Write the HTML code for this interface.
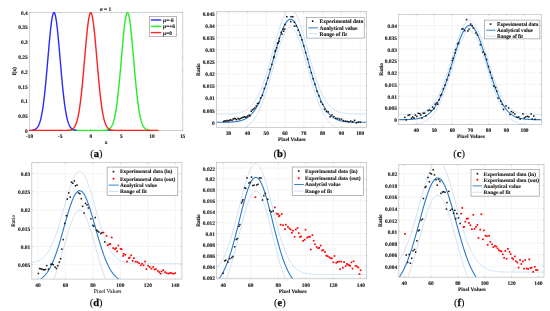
<!DOCTYPE html>
<html><head><meta charset="utf-8"><title>Figure</title>
<style>
html,body{margin:0;padding:0;background:#fff;}
body{width:550px;height:311px;overflow:hidden;}
svg{display:block;text-rendering:geometricPrecision;}
.t{font-family:"Liberation Serif", "DejaVu Serif", serif;font-weight:bold;font-size:5.4px;fill:#1a1a1a;stroke:#1a1a1a;stroke-width:0.14px;}
.r{font-family:"Liberation Serif", "DejaVu Serif", serif;font-size:5.6px;fill:#1a1a1a;stroke:#1a1a1a;stroke-width:0.08px;}
.cap{font-family:"Liberation Serif", "DejaVu Serif", serif;font-size:10.5px;fill:#111;stroke:#111;stroke-width:0.12px;}
.cap tspan{stroke-width:0.3px;}
</style></head>
<body>
<svg width="550" height="311" viewBox="0 0 550 311">
<rect width="550" height="311" fill="#fff"/>
<rect x="29.30" y="12.30" width="153.50" height="118.10" fill="none" stroke="#bcbcbc" stroke-width="0.7"/>
<line x1="29.50" y1="130.40" x2="29.50" y2="129.10" stroke="#bcbcbc" stroke-width="0.6"/>
<line x1="29.50" y1="12.30" x2="29.50" y2="13.60" stroke="#bcbcbc" stroke-width="0.6"/>
<line x1="60.12" y1="130.40" x2="60.12" y2="129.10" stroke="#bcbcbc" stroke-width="0.6"/>
<line x1="60.12" y1="12.30" x2="60.12" y2="13.60" stroke="#bcbcbc" stroke-width="0.6"/>
<line x1="90.74" y1="130.40" x2="90.74" y2="129.10" stroke="#bcbcbc" stroke-width="0.6"/>
<line x1="90.74" y1="12.30" x2="90.74" y2="13.60" stroke="#bcbcbc" stroke-width="0.6"/>
<line x1="121.36" y1="130.40" x2="121.36" y2="129.10" stroke="#bcbcbc" stroke-width="0.6"/>
<line x1="121.36" y1="12.30" x2="121.36" y2="13.60" stroke="#bcbcbc" stroke-width="0.6"/>
<line x1="151.98" y1="130.40" x2="151.98" y2="129.10" stroke="#bcbcbc" stroke-width="0.6"/>
<line x1="151.98" y1="12.30" x2="151.98" y2="13.60" stroke="#bcbcbc" stroke-width="0.6"/>
<line x1="182.60" y1="130.40" x2="182.60" y2="129.10" stroke="#bcbcbc" stroke-width="0.6"/>
<line x1="182.60" y1="12.30" x2="182.60" y2="13.60" stroke="#bcbcbc" stroke-width="0.6"/>
<line x1="29.30" y1="130.40" x2="30.60" y2="130.40" stroke="#bcbcbc" stroke-width="0.6"/>
<line x1="182.80" y1="130.40" x2="181.50" y2="130.40" stroke="#bcbcbc" stroke-width="0.6"/>
<line x1="29.30" y1="115.64" x2="30.60" y2="115.64" stroke="#bcbcbc" stroke-width="0.6"/>
<line x1="182.80" y1="115.64" x2="181.50" y2="115.64" stroke="#bcbcbc" stroke-width="0.6"/>
<line x1="29.30" y1="100.88" x2="30.60" y2="100.88" stroke="#bcbcbc" stroke-width="0.6"/>
<line x1="182.80" y1="100.88" x2="181.50" y2="100.88" stroke="#bcbcbc" stroke-width="0.6"/>
<line x1="29.30" y1="86.11" x2="30.60" y2="86.11" stroke="#bcbcbc" stroke-width="0.6"/>
<line x1="182.80" y1="86.11" x2="181.50" y2="86.11" stroke="#bcbcbc" stroke-width="0.6"/>
<line x1="29.30" y1="71.35" x2="30.60" y2="71.35" stroke="#bcbcbc" stroke-width="0.6"/>
<line x1="182.80" y1="71.35" x2="181.50" y2="71.35" stroke="#bcbcbc" stroke-width="0.6"/>
<line x1="29.30" y1="56.59" x2="30.60" y2="56.59" stroke="#bcbcbc" stroke-width="0.6"/>
<line x1="182.80" y1="56.59" x2="181.50" y2="56.59" stroke="#bcbcbc" stroke-width="0.6"/>
<line x1="29.30" y1="41.83" x2="30.60" y2="41.83" stroke="#bcbcbc" stroke-width="0.6"/>
<line x1="182.80" y1="41.83" x2="181.50" y2="41.83" stroke="#bcbcbc" stroke-width="0.6"/>
<line x1="29.30" y1="27.06" x2="30.60" y2="27.06" stroke="#bcbcbc" stroke-width="0.6"/>
<line x1="182.80" y1="27.06" x2="181.50" y2="27.06" stroke="#bcbcbc" stroke-width="0.6"/>
<line x1="29.30" y1="12.30" x2="30.60" y2="12.30" stroke="#bcbcbc" stroke-width="0.6"/>
<line x1="182.80" y1="12.30" x2="181.50" y2="12.30" stroke="#bcbcbc" stroke-width="0.6"/>
<text x="29.50" y="137.60" text-anchor="middle" class="t">-10</text>
<text x="60.12" y="137.60" text-anchor="middle" class="t">-5</text>
<text x="90.74" y="137.60" text-anchor="middle" class="t">0</text>
<text x="121.36" y="137.60" text-anchor="middle" class="t">5</text>
<text x="151.98" y="137.60" text-anchor="middle" class="t">10</text>
<text x="182.60" y="137.60" text-anchor="middle" class="t">15</text>
<text x="27.70" y="132.80" text-anchor="end" class="t">0</text>
<text x="27.70" y="118.04" text-anchor="end" class="t">0.05</text>
<text x="27.70" y="103.28" text-anchor="end" class="t">0.1</text>
<text x="27.70" y="88.51" text-anchor="end" class="t">0.15</text>
<text x="27.70" y="73.75" text-anchor="end" class="t">0.2</text>
<text x="27.70" y="58.99" text-anchor="end" class="t">0.25</text>
<text x="27.70" y="44.23" text-anchor="end" class="t">0.3</text>
<text x="27.70" y="29.46" text-anchor="end" class="t">0.35</text>
<text x="27.70" y="14.70" text-anchor="end" class="t">0.4</text>
<polyline points="70.53,130.40 74.39,130.40 78.25,130.40 82.11,130.40 85.96,130.40 89.82,130.40 93.68,130.40 97.54,130.40 101.40,130.40 105.25,130.40 109.11,130.40" fill="none" stroke="#22f022" stroke-width="1.4" stroke-linejoin="round" stroke-linecap="round"/>
<polyline points="108.50,130.40 109.11,130.40 109.72,130.40 110.34,130.40 110.95,130.40" fill="none" stroke="#2a2aff" stroke-width="1.4" stroke-linejoin="round" stroke-linecap="round"/>
<polyline points="31.95,130.22 32.10,130.20 32.24,130.19 32.39,130.17 32.54,130.15 32.68,130.12 32.83,130.10 32.98,130.07 33.13,130.05 33.27,130.02 33.42,129.98 33.57,129.95 33.71,129.91 33.86,129.87 34.01,129.83 34.15,129.78 34.30,129.73 34.45,129.68 34.60,129.62 34.74,129.56 34.89,129.49 35.04,129.42 35.18,129.35 35.33,129.27 35.48,129.18 35.62,129.09 35.77,128.99 35.92,128.89 36.06,128.78 36.21,128.66 36.36,128.54 36.51,128.41 36.65,128.26 36.80,128.11 36.95,127.96 37.09,127.79 37.24,127.61 37.39,127.42 37.53,127.22 37.68,127.01 37.83,126.79 37.98,126.55 38.12,126.31 38.27,126.04 38.42,125.77 38.56,125.48 38.71,125.17 38.86,124.85 39.00,124.51 39.15,124.16 39.30,123.79 39.45,123.40 39.59,122.99 39.74,122.56 39.89,122.11 40.03,121.64 40.18,121.15 40.33,120.64 40.47,120.11 40.62,119.55 40.77,118.97 40.92,118.37 41.06,117.74 41.21,117.08 41.36,116.40 41.50,115.70 41.65,114.96 41.80,114.20 41.94,113.41 42.09,112.60 42.24,111.75 42.38,110.88 42.53,109.98 42.68,109.04 42.83,108.08 42.97,107.09 43.12,106.07 43.27,105.02 43.41,103.93 43.56,102.82 43.71,101.68 43.85,100.50 44.00,99.30 44.15,98.07 44.30,96.81 44.44,95.51 44.59,94.19 44.74,92.84 44.88,91.47 45.03,90.06 45.18,88.63 45.32,87.18 45.47,85.70 45.62,84.19 45.77,82.66 45.91,81.11 46.06,79.54 46.21,77.95 46.35,76.34 46.50,74.71 46.65,73.07 46.79,71.41 46.94,69.74 47.09,68.05 47.24,66.36 47.38,64.66 47.53,62.95 47.68,61.24 47.82,59.53 47.97,57.82 48.12,56.10 48.26,54.39 48.41,52.69 48.56,50.99 48.70,49.30 48.85,47.63 49.00,45.97 49.15,44.32 49.29,42.70 49.44,41.09 49.59,39.51 49.73,37.95 49.88,36.42 50.03,34.92 50.17,33.45 50.32,32.02 50.47,30.62 50.62,29.26 50.76,27.94 50.91,26.66 51.06,25.43 51.20,24.24 51.35,23.11 51.50,22.02 51.64,20.98 51.79,20.00 51.94,19.08 52.09,18.21 52.23,17.40 52.38,16.65 52.53,15.96 52.67,15.33 52.82,14.76 52.97,14.26 53.11,13.83 53.26,13.46 53.41,13.15 53.56,12.92 53.70,12.75 53.85,12.65 54.00,12.61 54.14,12.65 54.29,12.75 54.44,12.92 54.58,13.15 54.73,13.46 54.88,13.83 55.02,14.26 55.17,14.76 55.32,15.33 55.47,15.96 55.61,16.65 55.76,17.40 55.91,18.21 56.05,19.08 56.20,20.00 56.35,20.98 56.49,22.02 56.64,23.11 56.79,24.24 56.94,25.43 57.08,26.66 57.23,27.94 57.38,29.26 57.52,30.62 57.67,32.02 57.82,33.45 57.96,34.92 58.11,36.42 58.26,37.95 58.41,39.51 58.55,41.09 58.70,42.70 58.85,44.32 58.99,45.97 59.14,47.63 59.29,49.30 59.43,50.99 59.58,52.69 59.73,54.39 59.88,56.10 60.02,57.82 60.17,59.53 60.32,61.24 60.46,62.95 60.61,64.66 60.76,66.36 60.90,68.05 61.05,69.74 61.20,71.41 61.34,73.07 61.49,74.71 61.64,76.34 61.79,77.95 61.93,79.54 62.08,81.11 62.23,82.66 62.37,84.19 62.52,85.70 62.67,87.18 62.81,88.63 62.96,90.06 63.11,91.47 63.26,92.84 63.40,94.19 63.55,95.51 63.70,96.81 63.84,98.07 63.99,99.30 64.14,100.50 64.28,101.68 64.43,102.82 64.58,103.93 64.73,105.02 64.87,106.07 65.02,107.09 65.17,108.08 65.31,109.04 65.46,109.98 65.61,110.88 65.75,111.75 65.90,112.60 66.05,113.41 66.20,114.20 66.34,114.96 66.49,115.70 66.64,116.40 66.78,117.08 66.93,117.74 67.08,118.37 67.22,118.97 67.37,119.55 67.52,120.11 67.66,120.64 67.81,121.15 67.96,121.64 68.11,122.11 68.25,122.56 68.40,122.99 68.55,123.40 68.69,123.79 68.84,124.16 68.99,124.51 69.13,124.85 69.28,125.17 69.43,125.48 69.58,125.77 69.72,126.04 69.87,126.31 70.02,126.55 70.16,126.79 70.31,127.01 70.46,127.22 70.60,127.42 70.75,127.61 70.90,127.79 71.05,127.96 71.19,128.11 71.34,128.26 71.49,128.41 71.63,128.54 71.78,128.66 71.93,128.78 72.07,128.89 72.22,128.99 72.37,129.09 72.51,129.18 72.66,129.27 72.81,129.35 72.96,129.42 73.10,129.49 73.25,129.56 73.40,129.62 73.54,129.68 73.69,129.73 73.84,129.78 73.98,129.83 74.13,129.87 74.28,129.91 74.43,129.95 74.57,129.98 74.72,130.02 74.87,130.05 75.01,130.07 75.16,130.10 75.31,130.12 75.45,130.15 75.60,130.17 75.75,130.19 75.90,130.20 76.04,130.22" fill="none" stroke="#2a2aff" stroke-width="1.4" stroke-linejoin="round" stroke-linecap="round"/>
<polyline points="105.44,130.22 105.58,130.20 105.73,130.19 105.88,130.17 106.03,130.15 106.17,130.12 106.32,130.10 106.47,130.07 106.61,130.05 106.76,130.02 106.91,129.98 107.05,129.95 107.20,129.91 107.35,129.87 107.50,129.83 107.64,129.78 107.79,129.73 107.94,129.68 108.08,129.62 108.23,129.56 108.38,129.49 108.52,129.42 108.67,129.35 108.82,129.27 108.97,129.18 109.11,129.09 109.26,128.99 109.41,128.89 109.55,128.78 109.70,128.66 109.85,128.54 109.99,128.41 110.14,128.26 110.29,128.11 110.43,127.96 110.58,127.79 110.73,127.61 110.88,127.42 111.02,127.22 111.17,127.01 111.32,126.79 111.46,126.55 111.61,126.31 111.76,126.04 111.90,125.77 112.05,125.48 112.20,125.17 112.35,124.85 112.49,124.51 112.64,124.16 112.79,123.79 112.93,123.40 113.08,122.99 113.23,122.56 113.37,122.11 113.52,121.64 113.67,121.15 113.82,120.64 113.96,120.11 114.11,119.55 114.26,118.97 114.40,118.37 114.55,117.74 114.70,117.08 114.84,116.40 114.99,115.70 115.14,114.96 115.28,114.20 115.43,113.41 115.58,112.60 115.73,111.75 115.87,110.88 116.02,109.98 116.17,109.04 116.31,108.08 116.46,107.09 116.61,106.07 116.75,105.02 116.90,103.93 117.05,102.82 117.20,101.68 117.34,100.50 117.49,99.30 117.64,98.07 117.78,96.81 117.93,95.51 118.08,94.19 118.22,92.84 118.37,91.47 118.52,90.06 118.67,88.63 118.81,87.18 118.96,85.70 119.11,84.19 119.25,82.66 119.40,81.11 119.55,79.54 119.69,77.95 119.84,76.34 119.99,74.71 120.14,73.07 120.28,71.41 120.43,69.74 120.58,68.05 120.72,66.36 120.87,64.66 121.02,62.95 121.16,61.24 121.31,59.53 121.46,57.82 121.60,56.10 121.75,54.39 121.90,52.69 122.05,50.99 122.19,49.30 122.34,47.63 122.49,45.97 122.63,44.32 122.78,42.70 122.93,41.09 123.07,39.51 123.22,37.95 123.37,36.42 123.52,34.92 123.66,33.45 123.81,32.02 123.96,30.62 124.10,29.26 124.25,27.94 124.40,26.66 124.54,25.43 124.69,24.24 124.84,23.11 124.99,22.02 125.13,20.98 125.28,20.00 125.43,19.08 125.57,18.21 125.72,17.40 125.87,16.65 126.01,15.96 126.16,15.33 126.31,14.76 126.46,14.26 126.60,13.83 126.75,13.46 126.90,13.15 127.04,12.92 127.19,12.75 127.34,12.65 127.48,12.61 127.63,12.65 127.78,12.75 127.92,12.92 128.07,13.15 128.22,13.46 128.37,13.83 128.51,14.26 128.66,14.76 128.81,15.33 128.95,15.96 129.10,16.65 129.25,17.40 129.39,18.21 129.54,19.08 129.69,20.00 129.84,20.98 129.98,22.02 130.13,23.11 130.28,24.24 130.42,25.43 130.57,26.66 130.72,27.94 130.86,29.26 131.01,30.62 131.16,32.02 131.31,33.45 131.45,34.92 131.60,36.42 131.75,37.95 131.89,39.51 132.04,41.09 132.19,42.70 132.33,44.32 132.48,45.97 132.63,47.63 132.78,49.30 132.92,50.99 133.07,52.69 133.22,54.39 133.36,56.10 133.51,57.82 133.66,59.53 133.80,61.24 133.95,62.95 134.10,64.66 134.24,66.36 134.39,68.05 134.54,69.74 134.69,71.41 134.83,73.07 134.98,74.71 135.13,76.34 135.27,77.95 135.42,79.54 135.57,81.11 135.71,82.66 135.86,84.19 136.01,85.70 136.16,87.18 136.30,88.63 136.45,90.06 136.60,91.47 136.74,92.84 136.89,94.19 137.04,95.51 137.18,96.81 137.33,98.07 137.48,99.30 137.63,100.50 137.77,101.68 137.92,102.82 138.07,103.93 138.21,105.02 138.36,106.07 138.51,107.09 138.65,108.08 138.80,109.04 138.95,109.98 139.10,110.88 139.24,111.75 139.39,112.60 139.54,113.41 139.68,114.20 139.83,114.96 139.98,115.70 140.12,116.40 140.27,117.08 140.42,117.74 140.56,118.37 140.71,118.97 140.86,119.55 141.01,120.11 141.15,120.64 141.30,121.15 141.45,121.64 141.59,122.11 141.74,122.56 141.89,122.99 142.03,123.40 142.18,123.79 142.33,124.16 142.48,124.51 142.62,124.85 142.77,125.17 142.92,125.48 143.06,125.77 143.21,126.04 143.36,126.31 143.50,126.55 143.65,126.79 143.80,127.01 143.95,127.22 144.09,127.42 144.24,127.61 144.39,127.79 144.53,127.96 144.68,128.11 144.83,128.26 144.97,128.41 145.12,128.54 145.27,128.66 145.42,128.78 145.56,128.89 145.71,128.99 145.86,129.09 146.00,129.18 146.15,129.27 146.30,129.35 146.44,129.42 146.59,129.49 146.74,129.56 146.88,129.62 147.03,129.68 147.18,129.73 147.33,129.78 147.47,129.83 147.62,129.87 147.77,129.91 147.91,129.95 148.06,129.98 148.21,130.02 148.35,130.05 148.50,130.07 148.65,130.10 148.80,130.12 148.94,130.15 149.09,130.17 149.24,130.19 149.38,130.20 149.53,130.22" fill="none" stroke="#22f022" stroke-width="1.4" stroke-linejoin="round" stroke-linecap="round"/>
<polyline points="29.50,130.40 29.93,130.40 30.36,130.40 30.79,130.40 31.21,130.40 31.64,130.40 32.07,130.40 32.50,130.40 32.93,130.40 33.36,130.40 33.79,130.40 34.22,130.40 34.64,130.40 35.07,130.40 35.50,130.40 35.93,130.40 36.36,130.40 36.79,130.40 37.22,130.40 37.64,130.40 38.07,130.40 38.50,130.40 38.93,130.40 39.36,130.40 39.79,130.40 40.22,130.40 40.65,130.40 41.07,130.40 41.50,130.40 41.93,130.40 42.36,130.40 42.79,130.40 43.22,130.40 43.65,130.40 44.08,130.40 44.50,130.40 44.93,130.40 45.36,130.40 45.79,130.40 46.22,130.40 46.65,130.40 47.08,130.40 47.50,130.40 47.93,130.40 48.36,130.40 48.79,130.40 49.22,130.40 49.65,130.40 50.08,130.40 50.51,130.40 50.93,130.40 51.36,130.40 51.79,130.40 52.22,130.40 52.65,130.40 53.08,130.40 53.51,130.40 53.93,130.40 54.36,130.40 54.79,130.40 55.22,130.40 55.65,130.40 56.08,130.40 56.51,130.40 56.94,130.40 57.36,130.40 57.79,130.40 58.22,130.40 58.65,130.40 59.08,130.40 59.51,130.40 59.94,130.40 60.36,130.40 60.79,130.40 61.22,130.40 61.65,130.40 62.08,130.40 62.51,130.40 62.94,130.40 63.37,130.39 63.79,130.39 64.22,130.39 64.65,130.39 65.08,130.38 65.51,130.38 65.94,130.37 66.37,130.36 66.80,130.34 67.22,130.33 67.65,130.30 68.08,130.27 68.51,130.24 68.94,130.19 69.37,130.13 69.80,130.06 70.22,129.97 70.65,129.86 71.08,129.72 71.51,129.55 71.94,129.34 72.37,129.09 72.80,128.79 73.23,128.43 73.65,128.00 74.08,127.49 74.51,126.88 74.94,126.18 75.37,125.35 75.80,124.40 76.23,123.30 76.65,122.04 77.08,120.60 77.51,118.97 77.94,117.14 78.37,115.09 78.80,112.80 79.23,110.28 79.66,107.51 80.08,104.48 80.51,101.19 80.94,97.65 81.37,93.86 81.80,89.83 82.23,85.57 82.66,81.11 83.08,76.47 83.51,71.69 83.94,66.79 84.37,61.81 84.80,56.82 85.23,51.84 85.66,46.93 86.09,42.16 86.51,37.56 86.94,33.21 87.37,29.15 87.80,25.43 88.23,22.11 88.66,19.23 89.09,16.83 89.52,14.94 89.94,13.60 90.37,12.82 90.80,12.62 91.23,12.99 91.66,13.93 92.09,15.43 92.52,17.46 92.94,20.00 93.37,23.01 93.80,26.45 94.23,30.27 94.66,34.43 95.09,38.85 95.52,43.51 95.95,48.32 96.37,53.26 96.80,58.24 97.23,63.24 97.66,68.20 98.09,73.07 98.52,77.81 98.95,82.41 99.37,86.81 99.80,91.00 100.23,94.97 100.66,98.69 101.09,102.16 101.52,105.37 101.95,108.33 102.38,111.03 102.80,113.48 103.23,115.70 103.66,117.68 104.09,119.46 104.52,121.03 104.95,122.41 105.38,123.63 105.81,124.69 106.23,125.60 106.66,126.39 107.09,127.07 107.52,127.64 107.95,128.13 108.38,128.54 108.81,128.88 109.23,129.17 109.66,129.41 110.09,129.60 110.52,129.76 110.95,129.89 111.38,130.00 111.81,130.08 112.24,130.15 112.66,130.21 113.09,130.25 113.52,130.28 113.95,130.31 114.38,130.33 114.81,130.35 115.24,130.36 115.66,130.37 116.09,130.38 116.52,130.38 116.95,130.39 117.38,130.39 117.81,130.39 118.24,130.40 118.67,130.40 119.09,130.40 119.52,130.40 119.95,130.40 120.38,130.40 120.81,130.40 121.24,130.40 121.67,130.40 122.09,130.40 122.52,130.40 122.95,130.40 123.38,130.40 123.81,130.40 124.24,130.40 124.67,130.40 125.10,130.40 125.52,130.40 125.95,130.40 126.38,130.40 126.81,130.40 127.24,130.40 127.67,130.40 128.10,130.40 128.53,130.40 128.95,130.40 129.38,130.40 129.81,130.40 130.24,130.40 130.67,130.40 131.10,130.40 131.53,130.40 131.95,130.40 132.38,130.40 132.81,130.40 133.24,130.40 133.67,130.40 134.10,130.40 134.53,130.40 134.96,130.40 135.38,130.40 135.81,130.40 136.24,130.40 136.67,130.40 137.10,130.40 137.53,130.40 137.96,130.40 138.38,130.40 138.81,130.40 139.24,130.40 139.67,130.40 140.10,130.40 140.53,130.40 140.96,130.40 141.39,130.40 141.81,130.40 142.24,130.40 142.67,130.40 143.10,130.40 143.53,130.40 143.96,130.40 144.39,130.40 144.81,130.40 145.24,130.40 145.67,130.40 146.10,130.40 146.53,130.40 146.96,130.40 147.39,130.40 147.82,130.40 148.24,130.40 148.67,130.40 149.10,130.40 149.53,130.40 149.96,130.40 150.39,130.40 150.82,130.40 151.25,130.40 151.67,130.40 152.10,130.40 152.53,130.40 152.96,130.40 153.39,130.40 153.82,130.40 154.25,130.40 154.67,130.40 155.10,130.40 155.53,130.40 155.96,130.40 156.39,130.40 156.82,130.40 157.25,130.40 157.68,130.40 158.10,130.40" fill="none" stroke="#ff2020" stroke-width="1.4" stroke-linejoin="round" stroke-linecap="round"/>
<text x="105.5" y="10.6" text-anchor="middle" class="t">σ = 1</text>
<text x="106" y="144.3" text-anchor="middle" class="t">x</text>
<text transform="translate(15.9,71.3) rotate(-90)" text-anchor="middle" class="t">f(x)</text>
<rect x="149.4" y="16.3" width="27" height="20.2" fill="#fff" stroke="#8a8a8a" stroke-width="0.6"/>
<line x1="150.8" y1="20.0" x2="161.3" y2="20.0" stroke="#2a2aff" stroke-width="1.4"/>
<text x="163.1" y="21.90" class="t">μ=-6</text>
<line x1="150.8" y1="26.4" x2="161.3" y2="26.4" stroke="#22f022" stroke-width="1.4"/>
<text x="163.1" y="28.30" class="t">μ=+6</text>
<line x1="150.8" y1="32.6" x2="161.3" y2="32.6" stroke="#ff2a2a" stroke-width="1.4"/>
<text x="163.1" y="34.50" class="t">μ=0</text>
<line x1="228.60" y1="11.60" x2="228.60" y2="127.60" stroke="#eeeeee" stroke-width="0.6"/>
<line x1="247.40" y1="11.60" x2="247.40" y2="127.60" stroke="#eeeeee" stroke-width="0.6"/>
<line x1="266.20" y1="11.60" x2="266.20" y2="127.60" stroke="#eeeeee" stroke-width="0.6"/>
<line x1="285.00" y1="11.60" x2="285.00" y2="127.60" stroke="#eeeeee" stroke-width="0.6"/>
<line x1="303.80" y1="11.60" x2="303.80" y2="127.60" stroke="#eeeeee" stroke-width="0.6"/>
<line x1="322.60" y1="11.60" x2="322.60" y2="127.60" stroke="#eeeeee" stroke-width="0.6"/>
<line x1="341.40" y1="11.60" x2="341.40" y2="127.60" stroke="#eeeeee" stroke-width="0.6"/>
<line x1="360.20" y1="11.60" x2="360.20" y2="127.60" stroke="#eeeeee" stroke-width="0.6"/>
<line x1="216.40" y1="122.30" x2="366.50" y2="122.30" stroke="#eeeeee" stroke-width="0.6"/>
<line x1="216.40" y1="110.18" x2="366.50" y2="110.18" stroke="#eeeeee" stroke-width="0.6"/>
<line x1="216.40" y1="98.06" x2="366.50" y2="98.06" stroke="#eeeeee" stroke-width="0.6"/>
<line x1="216.40" y1="85.93" x2="366.50" y2="85.93" stroke="#eeeeee" stroke-width="0.6"/>
<line x1="216.40" y1="73.81" x2="366.50" y2="73.81" stroke="#eeeeee" stroke-width="0.6"/>
<line x1="216.40" y1="61.69" x2="366.50" y2="61.69" stroke="#eeeeee" stroke-width="0.6"/>
<line x1="216.40" y1="49.57" x2="366.50" y2="49.57" stroke="#eeeeee" stroke-width="0.6"/>
<line x1="216.40" y1="37.44" x2="366.50" y2="37.44" stroke="#eeeeee" stroke-width="0.6"/>
<line x1="216.40" y1="25.32" x2="366.50" y2="25.32" stroke="#eeeeee" stroke-width="0.6"/>
<line x1="216.40" y1="13.20" x2="366.50" y2="13.20" stroke="#eeeeee" stroke-width="0.6"/>
<clipPath id="c1"><rect x="216.40" y="11.60" width="150.10" height="116.00"/></clipPath>
<g clip-path="url(#c1)">
<polyline points="209.80,114.05 210.36,114.05 210.93,114.05 211.49,114.05 212.06,114.05 212.62,114.05 213.18,114.05 213.75,114.05 214.31,114.05 214.88,114.05 215.44,114.05 216.00,114.05 216.57,114.05 217.13,114.04 217.70,114.04 218.26,114.04 218.82,114.04 219.39,114.03 219.95,114.03 220.52,114.03 221.08,114.02 221.64,114.02 222.21,114.01 222.77,114.01 223.34,114.00 223.90,113.99 224.46,113.98 225.03,113.97 225.59,113.96 226.16,113.95 226.72,113.94 227.28,113.92 227.85,113.91 228.41,113.89 228.98,113.87 229.54,113.84 230.10,113.82 230.67,113.79 231.23,113.76 231.80,113.72 232.36,113.68 232.92,113.64 233.49,113.59 234.05,113.54 234.62,113.48 235.18,113.42 235.74,113.35 236.31,113.28 236.87,113.19 237.44,113.10 238.00,113.00 238.56,112.89 239.13,112.77 239.69,112.64 240.26,112.50 240.82,112.35 241.38,112.18 241.95,112.00 242.51,111.80 243.08,111.59 243.64,111.36 244.20,111.12 244.77,110.85 245.33,110.56 245.90,110.25 246.46,109.92 247.02,109.57 247.59,109.19 248.15,108.78 248.72,108.35 249.28,107.88 249.84,107.39 250.41,106.86 250.97,106.30 251.54,105.70 252.10,105.07 252.66,104.41 253.23,103.70 253.79,102.95 254.36,102.16 254.92,101.33 255.48,100.46 256.05,99.54 256.61,98.57 257.18,97.56 257.74,96.50 258.30,95.40 258.87,94.24 259.43,93.04 260.00,91.78 260.56,90.48 261.12,89.13 261.69,87.72 262.25,86.27 262.82,84.77 263.38,83.22 263.94,81.62 264.51,79.98 265.07,78.29 265.64,76.55 266.20,74.78 266.76,72.96 267.33,71.11 267.89,69.22 268.46,67.29 269.02,65.34 269.58,63.36 270.15,61.35 270.71,59.32 271.28,57.28 271.84,55.22 272.40,53.15 272.97,51.08 273.53,49.00 274.10,46.93 274.66,44.86 275.22,42.81 275.79,40.77 276.35,38.76 276.92,36.77 277.48,34.82 278.04,32.90 278.61,31.02 279.17,29.19 279.74,27.41 280.30,25.69 280.86,24.03 281.43,22.44 281.99,20.91 282.56,19.47 283.12,18.10 283.68,16.82 284.25,15.62 284.81,14.51 285.38,13.50 285.94,12.59 286.50,11.78 287.07,11.07 287.63,10.46 288.20,9.97 288.76,9.58 289.32,9.30 289.89,9.13 290.45,9.08 291.02,9.13 291.58,9.30 292.14,9.58 292.71,9.97 293.27,10.46 293.84,11.07 294.40,11.78 294.96,12.59 295.53,13.50 296.09,14.51 296.66,15.62 297.22,16.82 297.78,18.10 298.35,19.47 298.91,20.91 299.48,22.44 300.04,24.03 300.60,25.69 301.17,27.41 301.73,29.19 302.30,31.02 302.86,32.90 303.42,34.82 303.99,36.77 304.55,38.76 305.12,40.77 305.68,42.81 306.24,44.86 306.81,46.93 307.37,49.00 307.94,51.08 308.50,53.15 309.06,55.22 309.63,57.28 310.19,59.32 310.76,61.35 311.32,63.36 311.88,65.34 312.45,67.29 313.01,69.22 313.58,71.11 314.14,72.96 314.70,74.78 315.27,76.55 315.83,78.29 316.40,79.98 316.96,81.62 317.52,83.22 318.09,84.77 318.65,86.27 319.22,87.72 319.78,89.13 320.34,90.48 320.91,91.78 321.47,93.04 322.04,94.24 322.60,95.40 323.16,96.50 323.73,97.56 324.29,98.57 324.86,99.54 325.42,100.46 325.98,101.33 326.55,102.16 327.11,102.95 327.68,103.70 328.24,104.41 328.80,105.07 329.37,105.70 329.93,106.30 330.50,106.86 331.06,107.39 331.62,107.88 332.19,108.35 332.75,108.78 333.32,109.19 333.88,109.57 334.44,109.92 335.01,110.25 335.57,110.56 336.14,110.85 336.70,111.12 337.26,111.36 337.83,111.59 338.39,111.80 338.96,112.00 339.52,112.18 340.08,112.35 340.65,112.50 341.21,112.64 341.78,112.77 342.34,112.89 342.90,113.00 343.47,113.10 344.03,113.19 344.60,113.28 345.16,113.35 345.72,113.42 346.29,113.48 346.85,113.54 347.42,113.59 347.98,113.64 348.54,113.68 349.11,113.72 349.67,113.76 350.24,113.79 350.80,113.82 351.36,113.84 351.93,113.87 352.49,113.89 353.06,113.91 353.62,113.92 354.18,113.94 354.75,113.95 355.31,113.96 355.88,113.97 356.44,113.98 357.00,113.99 357.57,114.00 358.13,114.01 358.70,114.01 359.26,114.02 359.82,114.02 360.39,114.03 360.95,114.03 361.52,114.03 362.08,114.04 362.64,114.04 363.21,114.04 363.77,114.04 364.34,114.05 364.90,114.05 365.46,114.05 366.03,114.05 366.59,114.05 367.16,114.05 367.72,114.05 368.28,114.05 368.85,114.05 369.41,114.05 369.98,114.05 370.54,114.05 371.10,114.05 371.67,114.06 372.23,114.06 372.80,114.06 373.36,114.06 373.92,114.06 374.49,114.06 375.05,114.06 375.62,114.06 376.18,114.06 376.74,114.06 377.31,114.06 377.87,114.06 378.44,114.06 379.00,114.06" fill="none" stroke="#bcd7f2" stroke-width="0.7" stroke-linejoin="round" stroke-linecap="round"/>
<polyline points="209.80,130.54 210.36,130.54 210.93,130.54 211.49,130.54 212.06,130.54 212.62,130.54 213.18,130.54 213.75,130.54 214.31,130.54 214.88,130.54 215.44,130.53 216.00,130.53 216.57,130.53 217.13,130.53 217.70,130.53 218.26,130.53 218.82,130.52 219.39,130.52 219.95,130.52 220.52,130.51 221.08,130.51 221.64,130.51 222.21,130.50 222.77,130.49 223.34,130.49 223.90,130.48 224.46,130.47 225.03,130.46 225.59,130.45 226.16,130.44 226.72,130.43 227.28,130.41 227.85,130.40 228.41,130.38 228.98,130.36 229.54,130.33 230.10,130.31 230.67,130.28 231.23,130.25 231.80,130.22 232.36,130.18 232.92,130.14 233.49,130.09 234.05,130.04 234.62,129.98 235.18,129.92 235.74,129.85 236.31,129.78 236.87,129.69 237.44,129.60 238.00,129.51 238.56,129.40 239.13,129.28 239.69,129.15 240.26,129.02 240.82,128.86 241.38,128.70 241.95,128.52 242.51,128.33 243.08,128.12 243.64,127.90 244.20,127.66 244.77,127.39 245.33,127.11 245.90,126.81 246.46,126.49 247.02,126.14 247.59,125.76 248.15,125.36 248.72,124.94 249.28,124.48 249.84,124.00 250.41,123.48 250.97,122.93 251.54,122.35 252.10,121.73 252.66,121.07 253.23,120.38 253.79,119.64 254.36,118.87 254.92,118.05 255.48,117.19 256.05,116.29 256.61,115.35 257.18,114.35 257.74,113.31 258.30,112.23 258.87,111.09 259.43,109.91 260.00,108.68 260.56,107.40 261.12,106.07 261.69,104.69 262.25,103.27 262.82,101.79 263.38,100.27 263.94,98.71 264.51,97.09 265.07,95.43 265.64,93.73 266.20,91.99 266.76,90.21 267.33,88.39 267.89,86.53 268.46,84.64 269.02,82.73 269.58,80.78 270.15,78.81 270.71,76.82 271.28,74.81 271.84,72.79 272.40,70.76 272.97,68.73 273.53,66.69 274.10,64.65 274.66,62.63 275.22,60.61 275.79,58.61 276.35,56.64 276.92,54.68 277.48,52.77 278.04,50.88 278.61,49.04 279.17,47.24 279.74,45.50 280.30,43.81 280.86,42.18 281.43,40.62 281.99,39.12 282.56,37.70 283.12,36.36 283.68,35.10 284.25,33.92 284.81,32.84 285.38,31.85 285.94,30.95 286.50,30.15 287.07,29.46 287.63,28.86 288.20,28.38 288.76,28.00 289.32,27.72 289.89,27.56 290.45,27.50 291.02,27.56 291.58,27.72 292.14,28.00 292.71,28.38 293.27,28.86 293.84,29.46 294.40,30.15 294.96,30.95 295.53,31.85 296.09,32.84 296.66,33.92 297.22,35.10 297.78,36.36 298.35,37.70 298.91,39.12 299.48,40.62 300.04,42.18 300.60,43.81 301.17,45.50 301.73,47.24 302.30,49.04 302.86,50.88 303.42,52.77 303.99,54.68 304.55,56.64 305.12,58.61 305.68,60.61 306.24,62.63 306.81,64.65 307.37,66.69 307.94,68.73 308.50,70.76 309.06,72.79 309.63,74.81 310.19,76.82 310.76,78.81 311.32,80.78 311.88,82.73 312.45,84.64 313.01,86.53 313.58,88.39 314.14,90.21 314.70,91.99 315.27,93.73 315.83,95.43 316.40,97.09 316.96,98.71 317.52,100.27 318.09,101.79 318.65,103.27 319.22,104.69 319.78,106.07 320.34,107.40 320.91,108.68 321.47,109.91 322.04,111.09 322.60,112.23 323.16,113.31 323.73,114.35 324.29,115.35 324.86,116.29 325.42,117.19 325.98,118.05 326.55,118.87 327.11,119.64 327.68,120.38 328.24,121.07 328.80,121.73 329.37,122.35 329.93,122.93 330.50,123.48 331.06,124.00 331.62,124.48 332.19,124.94 332.75,125.36 333.32,125.76 333.88,126.14 334.44,126.49 335.01,126.81 335.57,127.11 336.14,127.39 336.70,127.66 337.26,127.90 337.83,128.12 338.39,128.33 338.96,128.52 339.52,128.70 340.08,128.86 340.65,129.02 341.21,129.15 341.78,129.28 342.34,129.40 342.90,129.51 343.47,129.60 344.03,129.69 344.60,129.78 345.16,129.85 345.72,129.92 346.29,129.98 346.85,130.04 347.42,130.09 347.98,130.14 348.54,130.18 349.11,130.22 349.67,130.25 350.24,130.28 350.80,130.31 351.36,130.33 351.93,130.36 352.49,130.38 353.06,130.40 353.62,130.41 354.18,130.43 354.75,130.44 355.31,130.45 355.88,130.46 356.44,130.47 357.00,130.48 357.57,130.49 358.13,130.49 358.70,130.50 359.26,130.51 359.82,130.51 360.39,130.51 360.95,130.52 361.52,130.52 362.08,130.52 362.64,130.53 363.21,130.53 363.77,130.53 364.34,130.53 364.90,130.53 365.46,130.53 366.03,130.54 366.59,130.54 367.16,130.54 367.72,130.54 368.28,130.54 368.85,130.54 369.41,130.54 369.98,130.54 370.54,130.54 371.10,130.54 371.67,130.54 372.23,130.54 372.80,130.54 373.36,130.54 373.92,130.54 374.49,130.54 375.05,130.54 375.62,130.54 376.18,130.54 376.74,130.54 377.31,130.54 377.87,130.54 378.44,130.54 379.00,130.54" fill="none" stroke="#bcd7f2" stroke-width="0.7" stroke-linejoin="round" stroke-linecap="round"/>
<polyline points="209.80,122.30 210.36,122.30 210.93,122.30 211.49,122.30 212.06,122.30 212.62,122.30 213.18,122.30 213.75,122.29 214.31,122.29 214.88,122.29 215.44,122.29 216.00,122.29 216.57,122.29 217.13,122.29 217.70,122.29 218.26,122.28 218.82,122.28 219.39,122.28 219.95,122.27 220.52,122.27 221.08,122.27 221.64,122.26 222.21,122.26 222.77,122.25 223.34,122.24 223.90,122.24 224.46,122.23 225.03,122.22 225.59,122.21 226.16,122.20 226.72,122.18 227.28,122.17 227.85,122.15 228.41,122.13 228.98,122.11 229.54,122.09 230.10,122.07 230.67,122.04 231.23,122.01 231.80,121.97 232.36,121.93 232.92,121.89 233.49,121.85 234.05,121.79 234.62,121.74 235.18,121.68 235.74,121.61 236.31,121.53 236.87,121.45 237.44,121.36 238.00,121.26 238.56,121.16 239.13,121.04 239.69,120.91 240.26,120.77 240.82,120.62 241.38,120.46 241.95,120.28 242.51,120.09 243.08,119.88 243.64,119.66 244.20,119.41 244.77,119.15 245.33,118.87 245.90,118.57 246.46,118.24 247.02,117.89 247.59,117.52 248.15,117.12 248.72,116.69 249.28,116.24 249.84,115.75 250.41,115.24 250.97,114.69 251.54,114.10 252.10,113.48 252.66,112.83 253.23,112.13 253.79,111.40 254.36,110.63 254.92,109.81 255.48,108.95 256.05,108.05 256.61,107.10 257.18,106.11 257.74,105.07 258.30,103.98 258.87,102.85 259.43,101.67 260.00,100.44 260.56,99.16 261.12,97.83 261.69,96.45 262.25,95.03 262.82,93.55 263.38,92.03 263.94,90.46 264.51,88.85 265.07,87.19 265.64,85.49 266.20,83.75 266.76,81.96 267.33,80.14 267.89,78.29 268.46,76.40 269.02,74.48 269.58,72.54 270.15,70.57 270.71,68.58 271.28,66.57 271.84,64.55 272.40,62.52 272.97,60.48 273.53,58.45 274.10,56.41 274.66,54.38 275.22,52.37 275.79,50.37 276.35,48.39 276.92,46.44 277.48,44.52 278.04,42.64 278.61,40.80 279.17,39.00 279.74,37.26 280.30,35.57 280.86,33.94 281.43,32.37 281.99,30.88 282.56,29.46 283.12,28.12 283.68,26.86 284.25,25.68 284.81,24.60 285.38,23.60 285.94,22.71 286.50,21.91 287.07,21.21 287.63,20.62 288.20,20.13 288.76,19.75 289.32,19.48 289.89,19.32 290.45,19.26 291.02,19.32 291.58,19.48 292.14,19.75 292.71,20.13 293.27,20.62 293.84,21.21 294.40,21.91 294.96,22.71 295.53,23.60 296.09,24.60 296.66,25.68 297.22,26.86 297.78,28.12 298.35,29.46 298.91,30.88 299.48,32.37 300.04,33.94 300.60,35.57 301.17,37.26 301.73,39.00 302.30,40.80 302.86,42.64 303.42,44.52 303.99,46.44 304.55,48.39 305.12,50.37 305.68,52.37 306.24,54.38 306.81,56.41 307.37,58.45 307.94,60.48 308.50,62.52 309.06,64.55 309.63,66.57 310.19,68.58 310.76,70.57 311.32,72.54 311.88,74.48 312.45,76.40 313.01,78.29 313.58,80.14 314.14,81.96 314.70,83.75 315.27,85.49 315.83,87.19 316.40,88.85 316.96,90.46 317.52,92.03 318.09,93.55 318.65,95.03 319.22,96.45 319.78,97.83 320.34,99.16 320.91,100.44 321.47,101.67 322.04,102.85 322.60,103.98 323.16,105.07 323.73,106.11 324.29,107.10 324.86,108.05 325.42,108.95 325.98,109.81 326.55,110.63 327.11,111.40 327.68,112.13 328.24,112.83 328.80,113.48 329.37,114.10 329.93,114.69 330.50,115.24 331.06,115.75 331.62,116.24 332.19,116.69 332.75,117.12 333.32,117.52 333.88,117.89 334.44,118.24 335.01,118.57 335.57,118.87 336.14,119.15 336.70,119.41 337.26,119.66 337.83,119.88 338.39,120.09 338.96,120.28 339.52,120.46 340.08,120.62 340.65,120.77 341.21,120.91 341.78,121.04 342.34,121.16 342.90,121.26 343.47,121.36 344.03,121.45 344.60,121.53 345.16,121.61 345.72,121.68 346.29,121.74 346.85,121.79 347.42,121.85 347.98,121.89 348.54,121.93 349.11,121.97 349.67,122.01 350.24,122.04 350.80,122.07 351.36,122.09 351.93,122.11 352.49,122.13 353.06,122.15 353.62,122.17 354.18,122.18 354.75,122.20 355.31,122.21 355.88,122.22 356.44,122.23 357.00,122.24 357.57,122.24 358.13,122.25 358.70,122.26 359.26,122.26 359.82,122.27 360.39,122.27 360.95,122.27 361.52,122.28 362.08,122.28 362.64,122.28 363.21,122.29 363.77,122.29 364.34,122.29 364.90,122.29 365.46,122.29 366.03,122.29 366.59,122.29 367.16,122.29 367.72,122.30 368.28,122.30 368.85,122.30 369.41,122.30 369.98,122.30 370.54,122.30 371.10,122.30 371.67,122.30 372.23,122.30 372.80,122.30 373.36,122.30 373.92,122.30 374.49,122.30 375.05,122.30 375.62,122.30 376.18,122.30 376.74,122.30 377.31,122.30 377.87,122.30 378.44,122.30 379.00,122.30" fill="none" stroke="#2a7cc9" stroke-width="1.1" stroke-linejoin="round" stroke-linecap="round"/>
<rect x="257.93" y="102.39" width="1.5" height="1.5" fill="#111"/>
<rect x="259.81" y="97.20" width="1.5" height="1.5" fill="#111"/>
<rect x="261.69" y="94.69" width="1.5" height="1.5" fill="#111"/>
<rect x="263.57" y="87.68" width="1.5" height="1.5" fill="#111"/>
<rect x="265.45" y="83.25" width="1.5" height="1.5" fill="#111"/>
<rect x="267.33" y="77.17" width="1.5" height="1.5" fill="#111"/>
<rect x="269.21" y="68.63" width="1.5" height="1.5" fill="#111"/>
<rect x="271.09" y="63.65" width="1.5" height="1.5" fill="#111"/>
<rect x="272.97" y="57.06" width="1.5" height="1.5" fill="#111"/>
<rect x="274.85" y="49.58" width="1.5" height="1.5" fill="#111"/>
<rect x="276.73" y="42.68" width="1.5" height="1.5" fill="#111"/>
<rect x="278.61" y="37.69" width="1.5" height="1.5" fill="#111"/>
<rect x="280.49" y="31.57" width="1.5" height="1.5" fill="#111"/>
<rect x="282.37" y="28.31" width="1.5" height="1.5" fill="#111"/>
<rect x="284.25" y="23.86" width="1.5" height="1.5" fill="#111"/>
<rect x="293.65" y="21.53" width="1.5" height="1.5" fill="#111"/>
<rect x="295.53" y="25.33" width="1.5" height="1.5" fill="#111"/>
<rect x="297.41" y="29.53" width="1.5" height="1.5" fill="#111"/>
<rect x="299.29" y="34.57" width="1.5" height="1.5" fill="#111"/>
<rect x="301.17" y="39.05" width="1.5" height="1.5" fill="#111"/>
<rect x="303.05" y="45.19" width="1.5" height="1.5" fill="#111"/>
<rect x="304.93" y="51.89" width="1.5" height="1.5" fill="#111"/>
<rect x="306.81" y="58.32" width="1.5" height="1.5" fill="#111"/>
<rect x="308.69" y="66.28" width="1.5" height="1.5" fill="#111"/>
<rect x="310.57" y="71.86" width="1.5" height="1.5" fill="#111"/>
<rect x="312.45" y="77.96" width="1.5" height="1.5" fill="#111"/>
<rect x="314.33" y="83.52" width="1.5" height="1.5" fill="#111"/>
<rect x="316.21" y="90.43" width="1.5" height="1.5" fill="#111"/>
<rect x="318.09" y="95.10" width="1.5" height="1.5" fill="#111"/>
<rect x="319.97" y="100.98" width="1.5" height="1.5" fill="#111"/>
<rect x="321.85" y="103.66" width="1.5" height="1.5" fill="#111"/>
<rect x="323.73" y="108.54" width="1.5" height="1.5" fill="#111"/>
<rect x="325.61" y="110.81" width="1.5" height="1.5" fill="#111"/>
<rect x="327.49" y="111.14" width="1.5" height="1.5" fill="#111"/>
<rect x="329.37" y="115.99" width="1.5" height="1.5" fill="#111"/>
<rect x="331.25" y="114.15" width="1.5" height="1.5" fill="#111"/>
<rect x="333.13" y="115.90" width="1.5" height="1.5" fill="#111"/>
<rect x="335.01" y="117.51" width="1.5" height="1.5" fill="#111"/>
<rect x="336.89" y="117.70" width="1.5" height="1.5" fill="#111"/>
<rect x="338.77" y="118.29" width="1.5" height="1.5" fill="#111"/>
<rect x="340.65" y="118.35" width="1.5" height="1.5" fill="#111"/>
<rect x="342.53" y="119.80" width="1.5" height="1.5" fill="#111"/>
<rect x="344.41" y="120.39" width="1.5" height="1.5" fill="#111"/>
<rect x="346.29" y="120.61" width="1.5" height="1.5" fill="#111"/>
<rect x="348.17" y="121.08" width="1.5" height="1.5" fill="#111"/>
<rect x="350.05" y="120.38" width="1.5" height="1.5" fill="#111"/>
<rect x="351.93" y="121.09" width="1.5" height="1.5" fill="#111"/>
<rect x="353.81" y="119.57" width="1.5" height="1.5" fill="#111"/>
<rect x="355.69" y="122.10" width="1.5" height="1.5" fill="#111"/>
<rect x="357.57" y="121.46" width="1.5" height="1.5" fill="#111"/>
<rect x="359.45" y="121.36" width="1.5" height="1.5" fill="#111"/>
<rect x="222.85" y="120.65" width="1.5" height="1.5" fill="#111"/>
<rect x="224.05" y="120.15" width="1.5" height="1.5" fill="#111"/>
<rect x="225.15" y="120.45" width="1.5" height="1.5" fill="#111"/>
<rect x="226.25" y="119.75" width="1.5" height="1.5" fill="#111"/>
<rect x="227.65" y="120.15" width="1.5" height="1.5" fill="#111"/>
<rect x="228.75" y="119.55" width="1.5" height="1.5" fill="#111"/>
<rect x="229.85" y="119.05" width="1.5" height="1.5" fill="#111"/>
<rect x="231.25" y="119.75" width="1.5" height="1.5" fill="#111"/>
<rect x="232.35" y="118.35" width="1.5" height="1.5" fill="#111"/>
<rect x="233.45" y="117.75" width="1.5" height="1.5" fill="#111"/>
<rect x="234.55" y="117.95" width="1.5" height="1.5" fill="#111"/>
<rect x="235.75" y="118.85" width="1.5" height="1.5" fill="#111"/>
<rect x="237.25" y="117.75" width="1.5" height="1.5" fill="#111"/>
<rect x="238.45" y="118.35" width="1.5" height="1.5" fill="#111"/>
<rect x="239.75" y="117.75" width="1.5" height="1.5" fill="#111"/>
<rect x="241.15" y="117.05" width="1.5" height="1.5" fill="#111"/>
<rect x="242.45" y="116.55" width="1.5" height="1.5" fill="#111"/>
<rect x="243.55" y="115.95" width="1.5" height="1.5" fill="#111"/>
<rect x="244.75" y="116.55" width="1.5" height="1.5" fill="#111"/>
<rect x="245.85" y="116.35" width="1.5" height="1.5" fill="#111"/>
<rect x="246.95" y="115.25" width="1.5" height="1.5" fill="#111"/>
<rect x="248.35" y="114.35" width="1.5" height="1.5" fill="#111"/>
<rect x="249.25" y="115.25" width="1.5" height="1.5" fill="#111"/>
<rect x="250.45" y="110.55" width="1.5" height="1.5" fill="#111"/>
<rect x="251.45" y="109.15" width="1.5" height="1.5" fill="#111"/>
<rect x="252.85" y="108.25" width="1.5" height="1.5" fill="#111"/>
<rect x="254.15" y="107.15" width="1.5" height="1.5" fill="#111"/>
<rect x="255.55" y="105.15" width="1.5" height="1.5" fill="#111"/>
<rect x="256.75" y="102.85" width="1.5" height="1.5" fill="#111"/>
<rect x="286.05" y="15.95" width="1.5" height="1.5" fill="#111"/>
<rect x="290.35" y="15.95" width="1.5" height="1.5" fill="#111"/>
<rect x="292.05" y="15.95" width="1.5" height="1.5" fill="#111"/>
<rect x="289.95" y="20.85" width="1.5" height="1.5" fill="#111"/>
<rect x="293.65" y="25.35" width="1.5" height="1.5" fill="#111"/>
<rect x="283.95" y="28.25" width="1.5" height="1.5" fill="#111"/>
<rect x="282.85" y="30.45" width="1.5" height="1.5" fill="#111"/>
<rect x="281.25" y="33.35" width="1.5" height="1.5" fill="#111"/>
<rect x="278.35" y="40.55" width="1.5" height="1.5" fill="#111"/>
<rect x="277.55" y="42.15" width="1.5" height="1.5" fill="#111"/>
<rect x="275.95" y="47.05" width="1.5" height="1.5" fill="#111"/>
<rect x="274.35" y="50.65" width="1.5" height="1.5" fill="#111"/>
<rect x="273.25" y="55.85" width="1.5" height="1.5" fill="#111"/>
</g>
<rect x="216.40" y="11.60" width="150.10" height="116.00" fill="none" stroke="#bcbcbc" stroke-width="0.7"/>
<line x1="228.60" y1="127.60" x2="228.60" y2="126.30" stroke="#bcbcbc" stroke-width="0.6"/>
<line x1="228.60" y1="11.60" x2="228.60" y2="12.90" stroke="#bcbcbc" stroke-width="0.6"/>
<line x1="247.40" y1="127.60" x2="247.40" y2="126.30" stroke="#bcbcbc" stroke-width="0.6"/>
<line x1="247.40" y1="11.60" x2="247.40" y2="12.90" stroke="#bcbcbc" stroke-width="0.6"/>
<line x1="266.20" y1="127.60" x2="266.20" y2="126.30" stroke="#bcbcbc" stroke-width="0.6"/>
<line x1="266.20" y1="11.60" x2="266.20" y2="12.90" stroke="#bcbcbc" stroke-width="0.6"/>
<line x1="285.00" y1="127.60" x2="285.00" y2="126.30" stroke="#bcbcbc" stroke-width="0.6"/>
<line x1="285.00" y1="11.60" x2="285.00" y2="12.90" stroke="#bcbcbc" stroke-width="0.6"/>
<line x1="303.80" y1="127.60" x2="303.80" y2="126.30" stroke="#bcbcbc" stroke-width="0.6"/>
<line x1="303.80" y1="11.60" x2="303.80" y2="12.90" stroke="#bcbcbc" stroke-width="0.6"/>
<line x1="322.60" y1="127.60" x2="322.60" y2="126.30" stroke="#bcbcbc" stroke-width="0.6"/>
<line x1="322.60" y1="11.60" x2="322.60" y2="12.90" stroke="#bcbcbc" stroke-width="0.6"/>
<line x1="341.40" y1="127.60" x2="341.40" y2="126.30" stroke="#bcbcbc" stroke-width="0.6"/>
<line x1="341.40" y1="11.60" x2="341.40" y2="12.90" stroke="#bcbcbc" stroke-width="0.6"/>
<line x1="360.20" y1="127.60" x2="360.20" y2="126.30" stroke="#bcbcbc" stroke-width="0.6"/>
<line x1="360.20" y1="11.60" x2="360.20" y2="12.90" stroke="#bcbcbc" stroke-width="0.6"/>
<line x1="216.40" y1="122.30" x2="217.70" y2="122.30" stroke="#bcbcbc" stroke-width="0.6"/>
<line x1="366.50" y1="122.30" x2="365.20" y2="122.30" stroke="#bcbcbc" stroke-width="0.6"/>
<line x1="216.40" y1="110.18" x2="217.70" y2="110.18" stroke="#bcbcbc" stroke-width="0.6"/>
<line x1="366.50" y1="110.18" x2="365.20" y2="110.18" stroke="#bcbcbc" stroke-width="0.6"/>
<line x1="216.40" y1="98.06" x2="217.70" y2="98.06" stroke="#bcbcbc" stroke-width="0.6"/>
<line x1="366.50" y1="98.06" x2="365.20" y2="98.06" stroke="#bcbcbc" stroke-width="0.6"/>
<line x1="216.40" y1="85.93" x2="217.70" y2="85.93" stroke="#bcbcbc" stroke-width="0.6"/>
<line x1="366.50" y1="85.93" x2="365.20" y2="85.93" stroke="#bcbcbc" stroke-width="0.6"/>
<line x1="216.40" y1="73.81" x2="217.70" y2="73.81" stroke="#bcbcbc" stroke-width="0.6"/>
<line x1="366.50" y1="73.81" x2="365.20" y2="73.81" stroke="#bcbcbc" stroke-width="0.6"/>
<line x1="216.40" y1="61.69" x2="217.70" y2="61.69" stroke="#bcbcbc" stroke-width="0.6"/>
<line x1="366.50" y1="61.69" x2="365.20" y2="61.69" stroke="#bcbcbc" stroke-width="0.6"/>
<line x1="216.40" y1="49.57" x2="217.70" y2="49.57" stroke="#bcbcbc" stroke-width="0.6"/>
<line x1="366.50" y1="49.57" x2="365.20" y2="49.57" stroke="#bcbcbc" stroke-width="0.6"/>
<line x1="216.40" y1="37.44" x2="217.70" y2="37.44" stroke="#bcbcbc" stroke-width="0.6"/>
<line x1="366.50" y1="37.44" x2="365.20" y2="37.44" stroke="#bcbcbc" stroke-width="0.6"/>
<line x1="216.40" y1="25.32" x2="217.70" y2="25.32" stroke="#bcbcbc" stroke-width="0.6"/>
<line x1="366.50" y1="25.32" x2="365.20" y2="25.32" stroke="#bcbcbc" stroke-width="0.6"/>
<line x1="216.40" y1="13.20" x2="217.70" y2="13.20" stroke="#bcbcbc" stroke-width="0.6"/>
<line x1="366.50" y1="13.20" x2="365.20" y2="13.20" stroke="#bcbcbc" stroke-width="0.6"/>
<text x="228.60" y="134.70" text-anchor="middle" class="t">30</text>
<text x="247.40" y="134.70" text-anchor="middle" class="t">40</text>
<text x="266.20" y="134.70" text-anchor="middle" class="t">50</text>
<text x="285.00" y="134.70" text-anchor="middle" class="t">60</text>
<text x="303.80" y="134.70" text-anchor="middle" class="t">70</text>
<text x="322.60" y="134.70" text-anchor="middle" class="t">80</text>
<text x="341.40" y="134.70" text-anchor="middle" class="t">90</text>
<text x="360.20" y="134.70" text-anchor="middle" class="t">100</text>
<text x="214.80" y="124.70" text-anchor="end" class="t">0</text>
<text x="214.80" y="112.58" text-anchor="end" class="t">0.005</text>
<text x="214.80" y="100.46" text-anchor="end" class="t">0.01</text>
<text x="214.80" y="88.33" text-anchor="end" class="t">0.015</text>
<text x="214.80" y="76.21" text-anchor="end" class="t">0.02</text>
<text x="214.80" y="64.09" text-anchor="end" class="t">0.025</text>
<text x="214.80" y="51.97" text-anchor="end" class="t">0.03</text>
<text x="214.80" y="39.84" text-anchor="end" class="t">0.035</text>
<text x="214.80" y="27.72" text-anchor="end" class="t">0.04</text>
<text x="214.80" y="15.60" text-anchor="end" class="t">0.045</text>
<text x="291.8" y="141.2" text-anchor="middle" class="t">Pixel Values</text>
<text transform="translate(199.6,69.6) rotate(-90)" text-anchor="middle" class="t">Ratio</text>
<rect x="306.4" y="17.3" width="57.80" height="20.80" fill="#fff" stroke="#8a8a8a" stroke-width="0.6"/>
<rect x="311.90" y="20.40" width="1.6" height="1.6" fill="#111"/>
<text x="319.5" y="23.00" class="t" style="font-size:5.5px">Experimental data</text>
<line x1="308.3" y1="27.90" x2="318.0" y2="27.90" stroke="#2a7cc9" stroke-width="0.95"/>
<text x="319.5" y="29.70" class="t" style="font-size:5.5px">Analytical value</text>
<line x1="308.3" y1="33.70" x2="318.0" y2="33.70" stroke="#bcd7f2" stroke-width="0.7"/>
<text x="319.5" y="35.50" class="t" style="font-size:5.5px">Range of fit</text>
<line x1="416.30" y1="14.30" x2="416.30" y2="124.40" stroke="#eeeeee" stroke-width="0.6"/>
<line x1="434.33" y1="14.30" x2="434.33" y2="124.40" stroke="#eeeeee" stroke-width="0.6"/>
<line x1="452.37" y1="14.30" x2="452.37" y2="124.40" stroke="#eeeeee" stroke-width="0.6"/>
<line x1="470.40" y1="14.30" x2="470.40" y2="124.40" stroke="#eeeeee" stroke-width="0.6"/>
<line x1="488.43" y1="14.30" x2="488.43" y2="124.40" stroke="#eeeeee" stroke-width="0.6"/>
<line x1="506.47" y1="14.30" x2="506.47" y2="124.40" stroke="#eeeeee" stroke-width="0.6"/>
<line x1="524.50" y1="14.30" x2="524.50" y2="124.40" stroke="#eeeeee" stroke-width="0.6"/>
<line x1="398.50" y1="119.70" x2="541.70" y2="119.70" stroke="#eeeeee" stroke-width="0.6"/>
<line x1="398.50" y1="107.94" x2="541.70" y2="107.94" stroke="#eeeeee" stroke-width="0.6"/>
<line x1="398.50" y1="96.17" x2="541.70" y2="96.17" stroke="#eeeeee" stroke-width="0.6"/>
<line x1="398.50" y1="84.41" x2="541.70" y2="84.41" stroke="#eeeeee" stroke-width="0.6"/>
<line x1="398.50" y1="72.65" x2="541.70" y2="72.65" stroke="#eeeeee" stroke-width="0.6"/>
<line x1="398.50" y1="60.89" x2="541.70" y2="60.89" stroke="#eeeeee" stroke-width="0.6"/>
<line x1="398.50" y1="49.12" x2="541.70" y2="49.12" stroke="#eeeeee" stroke-width="0.6"/>
<line x1="398.50" y1="37.36" x2="541.70" y2="37.36" stroke="#eeeeee" stroke-width="0.6"/>
<line x1="398.50" y1="25.60" x2="541.70" y2="25.60" stroke="#eeeeee" stroke-width="0.6"/>
<clipPath id="c2"><rect x="398.50" y="14.30" width="143.20" height="110.10"/></clipPath>
<g clip-path="url(#c2)">
<polyline points="389.25,114.52 389.79,114.52 390.33,114.52 390.87,114.52 391.41,114.52 391.96,114.52 392.50,114.52 393.04,114.52 393.58,114.52 394.12,114.52 394.66,114.52 395.20,114.51 395.74,114.51 396.28,114.51 396.82,114.51 397.37,114.51 397.91,114.51 398.45,114.50 398.99,114.50 399.53,114.50 400.07,114.49 400.61,114.49 401.15,114.48 401.69,114.48 402.23,114.47 402.78,114.47 403.32,114.46 403.86,114.45 404.40,114.44 404.94,114.43 405.48,114.42 406.02,114.41 406.56,114.39 407.10,114.38 407.64,114.36 408.19,114.34 408.73,114.32 409.27,114.30 409.81,114.27 410.35,114.24 410.89,114.21 411.43,114.18 411.97,114.14 412.51,114.10 413.05,114.05 413.60,114.00 414.14,113.95 414.68,113.89 415.22,113.82 415.76,113.75 416.30,113.67 416.84,113.59 417.38,113.49 417.92,113.39 418.46,113.28 419.00,113.16 419.55,113.04 420.09,112.90 420.63,112.75 421.17,112.59 421.71,112.41 422.25,112.22 422.79,112.02 423.33,111.80 423.87,111.57 424.42,111.32 424.96,111.05 425.50,110.77 426.04,110.46 426.58,110.13 427.12,109.78 427.66,109.41 428.20,109.01 428.74,108.59 429.28,108.15 429.83,107.67 430.37,107.17 430.91,106.64 431.45,106.08 431.99,105.49 432.53,104.86 433.07,104.20 433.61,103.51 434.15,102.78 434.69,102.02 435.24,101.22 435.78,100.38 436.32,99.51 436.86,98.59 437.40,97.64 437.94,96.64 438.48,95.61 439.02,94.54 439.56,93.42 440.10,92.27 440.64,91.07 441.19,89.83 441.73,88.56 442.27,87.24 442.81,85.88 443.35,84.49 443.89,83.06 444.43,81.59 444.97,80.09 445.51,78.55 446.06,76.98 446.60,75.38 447.14,73.76 447.68,72.10 448.22,70.42 448.76,68.72 449.30,67.00 449.84,65.26 450.38,63.51 450.92,61.75 451.47,59.97 452.01,58.20 452.55,56.42 453.09,54.64 453.63,52.87 454.17,51.11 454.71,49.36 455.25,47.62 455.79,45.91 456.33,44.22 456.88,42.56 457.42,40.93 457.96,39.34 458.50,37.78 459.04,36.27 459.58,34.81 460.12,33.40 460.66,32.04 461.20,30.74 461.74,29.50 462.29,28.33 462.83,27.23 463.37,26.19 463.91,25.24 464.45,24.35 464.99,23.55 465.53,22.83 466.07,22.19 466.61,21.64 467.15,21.18 467.69,20.80 468.24,20.51 468.78,20.32 469.32,20.21 469.86,20.19 470.40,20.27 470.94,20.44 471.48,20.69 472.02,21.04 472.56,21.48 473.11,22.00 473.65,22.61 474.19,23.30 474.73,24.08 475.27,24.93 475.81,25.87 476.35,26.87 476.89,27.96 477.43,29.10 477.97,30.32 478.51,31.60 479.06,32.94 479.60,34.33 480.14,35.78 480.68,37.27 481.22,38.81 481.76,40.39 482.30,42.01 482.84,43.66 483.38,45.34 483.93,47.05 484.47,48.78 485.01,50.52 485.55,52.28 486.09,54.05 486.63,55.83 487.17,57.60 487.71,59.38 488.25,61.16 488.79,62.92 489.34,64.68 489.88,66.42 490.42,68.15 490.96,69.86 491.50,71.54 492.04,73.21 492.58,74.84 493.12,76.45 493.66,78.03 494.20,79.58 494.75,81.09 495.29,82.57 495.83,84.02 496.37,85.42 496.91,86.79 497.45,88.12 497.99,89.41 498.53,90.66 499.07,91.87 499.61,93.04 500.15,94.17 500.70,95.26 501.24,96.30 501.78,97.31 502.32,98.28 502.86,99.21 503.40,100.10 503.94,100.95 504.48,101.76 505.02,102.53 505.56,103.27 506.11,103.98 506.65,104.65 507.19,105.28 507.73,105.88 508.27,106.46 508.81,107.00 509.35,107.51 509.89,107.99 510.43,108.45 510.98,108.88 511.52,109.28 512.06,109.66 512.60,110.02 513.14,110.35 513.68,110.67 514.22,110.96 514.76,111.23 515.30,111.49 515.84,111.73 516.38,111.95 516.93,112.16 517.47,112.35 518.01,112.53 518.55,112.70 519.09,112.85 519.63,112.99 520.17,113.12 520.71,113.24 521.25,113.36 521.80,113.46 522.34,113.56 522.88,113.64 523.42,113.72 523.96,113.80 524.50,113.86 525.04,113.93 525.58,113.98 526.12,114.03 526.66,114.08 527.21,114.12 527.75,114.16 528.29,114.20 528.83,114.23 529.37,114.26 529.91,114.29 530.45,114.31 530.99,114.33 531.53,114.35 532.07,114.37 532.62,114.39 533.16,114.40 533.70,114.42 534.24,114.43 534.78,114.44 535.32,114.45 535.86,114.46 536.40,114.46 536.94,114.47 537.48,114.48 538.02,114.48 538.57,114.49 539.11,114.49 539.65,114.50 540.19,114.50 540.73,114.50 541.27,114.50 541.81,114.51 542.35,114.51 542.89,114.51 543.43,114.51 543.98,114.51 544.52,114.52 545.06,114.52 545.60,114.52 546.14,114.52 546.68,114.52 547.22,114.52 547.76,114.52 548.30,114.52 548.85,114.52 549.39,114.52 549.93,114.52 550.47,114.52 551.01,114.52 551.55,114.52" fill="none" stroke="#bcd7f2" stroke-width="0.7" stroke-linejoin="round" stroke-linecap="round"/>
<polyline points="389.25,124.87 389.79,124.87 390.33,124.87 390.87,124.87 391.41,124.87 391.96,124.87 392.50,124.87 393.04,124.87 393.58,124.87 394.12,124.87 394.66,124.87 395.20,124.87 395.74,124.86 396.28,124.86 396.82,124.86 397.37,124.86 397.91,124.86 398.45,124.85 398.99,124.85 399.53,124.85 400.07,124.84 400.61,124.84 401.15,124.83 401.69,124.83 402.23,124.82 402.78,124.82 403.32,124.81 403.86,124.80 404.40,124.79 404.94,124.78 405.48,124.77 406.02,124.76 406.56,124.74 407.10,124.73 407.64,124.71 408.19,124.69 408.73,124.67 409.27,124.65 409.81,124.62 410.35,124.59 410.89,124.56 411.43,124.53 411.97,124.49 412.51,124.45 413.05,124.40 413.60,124.35 414.14,124.30 414.68,124.24 415.22,124.17 415.76,124.10 416.30,124.02 416.84,123.94 417.38,123.84 417.92,123.74 418.46,123.63 419.00,123.52 419.55,123.39 420.09,123.25 420.63,123.10 421.17,122.94 421.71,122.76 422.25,122.58 422.79,122.37 423.33,122.16 423.87,121.92 424.42,121.67 424.96,121.40 425.50,121.12 426.04,120.81 426.58,120.48 427.12,120.13 427.66,119.76 428.20,119.37 428.74,118.94 429.28,118.50 429.83,118.02 430.37,117.52 430.91,116.99 431.45,116.43 431.99,115.84 432.53,115.21 433.07,114.55 433.61,113.86 434.15,113.13 434.69,112.37 435.24,111.57 435.78,110.73 436.32,109.86 436.86,108.94 437.40,107.99 437.94,107.00 438.48,105.96 439.02,104.89 439.56,103.77 440.10,102.62 440.64,101.42 441.19,100.18 441.73,98.91 442.27,97.59 442.81,96.23 443.35,94.84 443.89,93.41 444.43,91.94 444.97,90.44 445.51,88.90 446.06,87.33 446.60,85.74 447.14,84.11 447.68,82.45 448.22,80.77 448.76,79.07 449.30,77.35 449.84,75.61 450.38,73.86 450.92,72.10 451.47,70.32 452.01,68.55 452.55,66.77 453.09,64.99 453.63,63.22 454.17,61.46 454.71,59.71 455.25,57.97 455.79,56.26 456.33,54.57 456.88,52.91 457.42,51.28 457.96,49.69 458.50,48.13 459.04,46.62 459.58,45.16 460.12,43.75 460.66,42.39 461.20,41.09 461.74,39.85 462.29,38.68 462.83,37.58 463.37,36.55 463.91,35.59 464.45,34.71 464.99,33.90 465.53,33.18 466.07,32.54 466.61,31.99 467.15,31.53 467.69,31.15 468.24,30.86 468.78,30.67 469.32,30.56 469.86,30.55 470.40,30.62 470.94,30.79 471.48,31.05 472.02,31.39 472.56,31.83 473.11,32.35 473.65,32.96 474.19,33.65 474.73,34.43 475.27,35.28 475.81,36.22 476.35,37.23 476.89,38.31 477.43,39.46 477.97,40.67 478.51,41.95 479.06,43.29 479.60,44.68 480.14,46.13 480.68,47.62 481.22,49.16 481.76,50.74 482.30,52.36 482.84,54.01 483.38,55.69 483.93,57.40 484.47,59.13 485.01,60.87 485.55,62.63 486.09,64.40 486.63,66.18 487.17,67.95 487.71,69.73 488.25,71.51 488.79,73.27 489.34,75.03 489.88,76.77 490.42,78.50 490.96,80.21 491.50,81.90 492.04,83.56 492.58,85.20 493.12,86.80 493.66,88.38 494.20,89.93 494.75,91.45 495.29,92.92 495.83,94.37 496.37,95.77 496.91,97.14 497.45,98.47 497.99,99.76 498.53,101.01 499.07,102.22 499.61,103.39 500.15,104.52 500.70,105.61 501.24,106.66 501.78,107.66 502.32,108.63 502.86,109.56 503.40,110.45 503.94,111.30 504.48,112.11 505.02,112.88 505.56,113.62 506.11,114.33 506.65,115.00 507.19,115.63 507.73,116.24 508.27,116.81 508.81,117.35 509.35,117.86 509.89,118.34 510.43,118.80 510.98,119.23 511.52,119.63 512.06,120.01 512.60,120.37 513.14,120.70 513.68,121.02 514.22,121.31 514.76,121.58 515.30,121.84 515.84,122.08 516.38,122.30 516.93,122.51 517.47,122.70 518.01,122.88 518.55,123.05 519.09,123.20 519.63,123.34 520.17,123.47 520.71,123.60 521.25,123.71 521.80,123.81 522.34,123.91 522.88,123.99 523.42,124.07 523.96,124.15 524.50,124.22 525.04,124.28 525.58,124.33 526.12,124.39 526.66,124.43 527.21,124.48 527.75,124.51 528.29,124.55 528.83,124.58 529.37,124.61 529.91,124.64 530.45,124.66 530.99,124.69 531.53,124.71 532.07,124.72 532.62,124.74 533.16,124.75 533.70,124.77 534.24,124.78 534.78,124.79 535.32,124.80 535.86,124.81 536.40,124.81 536.94,124.82 537.48,124.83 538.02,124.83 538.57,124.84 539.11,124.84 539.65,124.85 540.19,124.85 540.73,124.85 541.27,124.86 541.81,124.86 542.35,124.86 542.89,124.86 543.43,124.86 543.98,124.87 544.52,124.87 545.06,124.87 545.60,124.87 546.14,124.87 546.68,124.87 547.22,124.87 547.76,124.87 548.30,124.87 548.85,124.87 549.39,124.87 549.93,124.87 550.47,124.87 551.01,124.87 551.55,124.87" fill="none" stroke="#bcd7f2" stroke-width="0.7" stroke-linejoin="round" stroke-linecap="round"/>
<polyline points="389.25,119.70 389.79,119.70 390.33,119.70 390.87,119.70 391.41,119.70 391.96,119.70 392.50,119.69 393.04,119.69 393.58,119.69 394.12,119.69 394.66,119.69 395.20,119.69 395.74,119.69 396.28,119.69 396.82,119.69 397.37,119.68 397.91,119.68 398.45,119.68 398.99,119.68 399.53,119.67 400.07,119.67 400.61,119.66 401.15,119.66 401.69,119.65 402.23,119.65 402.78,119.64 403.32,119.63 403.86,119.63 404.40,119.62 404.94,119.61 405.48,119.60 406.02,119.58 406.56,119.57 407.10,119.55 407.64,119.54 408.19,119.52 408.73,119.50 409.27,119.47 409.81,119.45 410.35,119.42 410.89,119.39 411.43,119.35 411.97,119.31 412.51,119.27 413.05,119.23 413.60,119.18 414.14,119.12 414.68,119.06 415.22,119.00 415.76,118.92 416.30,118.85 416.84,118.76 417.38,118.67 417.92,118.57 418.46,118.46 419.00,118.34 419.55,118.21 420.09,118.07 420.63,117.92 421.17,117.76 421.71,117.59 422.25,117.40 422.79,117.20 423.33,116.98 423.87,116.75 424.42,116.50 424.96,116.23 425.50,115.94 426.04,115.64 426.58,115.31 427.12,114.96 427.66,114.59 428.20,114.19 428.74,113.77 429.28,113.32 429.83,112.85 430.37,112.35 430.91,111.82 431.45,111.25 431.99,110.66 432.53,110.04 433.07,109.38 433.61,108.69 434.15,107.96 434.69,107.20 435.24,106.40 435.78,105.56 436.32,104.68 436.86,103.77 437.40,102.81 437.94,101.82 438.48,100.79 439.02,99.71 439.56,98.60 440.10,97.44 440.64,96.24 441.19,95.01 441.73,93.73 442.27,92.41 442.81,91.06 443.35,89.67 443.89,88.23 444.43,86.77 444.97,85.26 445.51,83.73 446.06,82.16 446.60,80.56 447.14,78.93 447.68,77.28 448.22,75.60 448.76,73.90 449.30,72.18 449.84,70.44 450.38,68.68 450.92,66.92 451.47,65.15 452.01,63.37 452.55,61.59 453.09,59.82 453.63,58.04 454.17,56.28 454.71,54.53 455.25,52.80 455.79,51.09 456.33,49.40 456.88,47.73 457.42,46.10 457.96,44.51 458.50,42.96 459.04,41.45 459.58,39.98 460.12,38.57 460.66,37.21 461.20,35.92 461.74,34.68 462.29,33.51 462.83,32.40 463.37,31.37 463.91,30.41 464.45,29.53 464.99,28.73 465.53,28.01 466.07,27.37 466.61,26.82 467.15,26.35 467.69,25.98 468.24,25.69 468.78,25.49 469.32,25.39 469.86,25.37 470.40,25.45 470.94,25.61 471.48,25.87 472.02,26.22 472.56,26.65 473.11,27.18 473.65,27.78 474.19,28.48 474.73,29.25 475.27,30.11 475.81,31.04 476.35,32.05 476.89,33.13 477.43,34.28 477.97,35.50 478.51,36.77 479.06,38.11 479.60,39.51 480.14,40.95 480.68,42.45 481.22,43.99 481.76,45.57 482.30,47.19 482.84,48.84 483.38,50.52 483.93,52.22 484.47,53.95 485.01,55.70 485.55,57.46 486.09,59.23 486.63,61.00 487.17,62.78 487.71,64.56 488.25,66.33 488.79,68.10 489.34,69.85 489.88,71.60 490.42,73.32 490.96,75.03 491.50,76.72 492.04,78.38 492.58,80.02 493.12,81.63 493.66,83.21 494.20,84.76 494.75,86.27 495.29,87.75 495.83,89.19 496.37,90.60 496.91,91.97 497.45,93.30 497.99,94.59 498.53,95.84 499.07,97.05 499.61,98.22 500.15,99.34 500.70,100.43 501.24,101.48 501.78,102.49 502.32,103.45 502.86,104.38 503.40,105.27 503.94,106.12 504.48,106.93 505.02,107.71 505.56,108.45 506.11,109.15 506.65,109.82 507.19,110.46 507.73,111.06 508.27,111.63 508.81,112.17 509.35,112.68 509.89,113.17 510.43,113.62 510.98,114.05 511.52,114.46 512.06,114.84 512.60,115.19 513.14,115.53 513.68,115.84 514.22,116.14 514.76,116.41 515.30,116.67 515.84,116.90 516.38,117.13 516.93,117.33 517.47,117.53 518.01,117.71 518.55,117.87 519.09,118.02 519.63,118.17 520.17,118.30 520.71,118.42 521.25,118.53 521.80,118.64 522.34,118.73 522.88,118.82 523.42,118.90 523.96,118.97 524.50,119.04 525.04,119.10 525.58,119.16 526.12,119.21 526.66,119.26 527.21,119.30 527.75,119.34 528.29,119.38 528.83,119.41 529.37,119.44 529.91,119.46 530.45,119.49 530.99,119.51 531.53,119.53 532.07,119.55 532.62,119.56 533.16,119.58 533.70,119.59 534.24,119.60 534.78,119.61 535.32,119.62 535.86,119.63 536.40,119.64 536.94,119.65 537.48,119.65 538.02,119.66 538.57,119.66 539.11,119.67 539.65,119.67 540.19,119.67 540.73,119.68 541.27,119.68 541.81,119.68 542.35,119.68 542.89,119.69 543.43,119.69 543.98,119.69 544.52,119.69 545.06,119.69 545.60,119.69 546.14,119.69 546.68,119.69 547.22,119.70 547.76,119.70 548.30,119.70 548.85,119.70 549.39,119.70 549.93,119.70 550.47,119.70 551.01,119.70 551.55,119.70" fill="none" stroke="#2a7cc9" stroke-width="1.1" stroke-linejoin="round" stroke-linecap="round"/>
<rect x="440.80" y="93.77" width="1.5" height="1.5" fill="#111"/>
<rect x="442.60" y="88.19" width="1.5" height="1.5" fill="#111"/>
<rect x="444.40" y="84.32" width="1.5" height="1.5" fill="#111"/>
<rect x="446.21" y="79.17" width="1.5" height="1.5" fill="#111"/>
<rect x="448.01" y="74.46" width="1.5" height="1.5" fill="#111"/>
<rect x="449.81" y="67.65" width="1.5" height="1.5" fill="#111"/>
<rect x="451.62" y="59.87" width="1.5" height="1.5" fill="#111"/>
<rect x="484.08" y="53.77" width="1.5" height="1.5" fill="#111"/>
<rect x="485.88" y="58.79" width="1.5" height="1.5" fill="#111"/>
<rect x="487.68" y="65.82" width="1.5" height="1.5" fill="#111"/>
<rect x="489.49" y="71.44" width="1.5" height="1.5" fill="#111"/>
<rect x="491.29" y="77.37" width="1.5" height="1.5" fill="#111"/>
<rect x="493.09" y="85.33" width="1.5" height="1.5" fill="#111"/>
<rect x="494.90" y="86.76" width="1.5" height="1.5" fill="#111"/>
<rect x="404.05" y="116.65" width="1.5" height="1.5" fill="#111"/>
<rect x="405.55" y="119.15" width="1.5" height="1.5" fill="#111"/>
<rect x="407.45" y="114.55" width="1.5" height="1.5" fill="#111"/>
<rect x="408.95" y="114.05" width="1.5" height="1.5" fill="#111"/>
<rect x="410.85" y="117.45" width="1.5" height="1.5" fill="#111"/>
<rect x="411.95" y="116.25" width="1.5" height="1.5" fill="#111"/>
<rect x="413.25" y="117.25" width="1.5" height="1.5" fill="#111"/>
<rect x="414.65" y="114.35" width="1.5" height="1.5" fill="#111"/>
<rect x="416.15" y="115.65" width="1.5" height="1.5" fill="#111"/>
<rect x="417.55" y="112.55" width="1.5" height="1.5" fill="#111"/>
<rect x="419.05" y="113.05" width="1.5" height="1.5" fill="#111"/>
<rect x="420.05" y="114.35" width="1.5" height="1.5" fill="#111"/>
<rect x="421.25" y="117.25" width="1.5" height="1.5" fill="#111"/>
<rect x="422.45" y="112.55" width="1.5" height="1.5" fill="#111"/>
<rect x="423.85" y="112.35" width="1.5" height="1.5" fill="#111"/>
<rect x="425.15" y="115.05" width="1.5" height="1.5" fill="#111"/>
<rect x="427.25" y="109.85" width="1.5" height="1.5" fill="#111"/>
<rect x="428.65" y="109.25" width="1.5" height="1.5" fill="#111"/>
<rect x="430.15" y="109.85" width="1.5" height="1.5" fill="#111"/>
<rect x="431.85" y="106.35" width="1.5" height="1.5" fill="#111"/>
<rect x="433.25" y="107.95" width="1.5" height="1.5" fill="#111"/>
<rect x="434.45" y="103.45" width="1.5" height="1.5" fill="#111"/>
<rect x="435.75" y="102.15" width="1.5" height="1.5" fill="#111"/>
<rect x="437.05" y="103.45" width="1.5" height="1.5" fill="#111"/>
<rect x="438.35" y="99.05" width="1.5" height="1.5" fill="#111"/>
<rect x="439.75" y="94.75" width="1.5" height="1.5" fill="#111"/>
<rect x="465.85" y="18.85" width="1.5" height="1.5" fill="#111"/>
<rect x="461.15" y="28.35" width="1.5" height="1.5" fill="#111"/>
<rect x="462.25" y="28.05" width="1.5" height="1.5" fill="#111"/>
<rect x="464.05" y="29.85" width="1.5" height="1.5" fill="#111"/>
<rect x="467.05" y="30.25" width="1.5" height="1.5" fill="#111"/>
<rect x="468.25" y="28.35" width="1.5" height="1.5" fill="#111"/>
<rect x="469.95" y="23.35" width="1.5" height="1.5" fill="#111"/>
<rect x="471.45" y="24.85" width="1.5" height="1.5" fill="#111"/>
<rect x="472.65" y="27.35" width="1.5" height="1.5" fill="#111"/>
<rect x="475.15" y="32.25" width="1.5" height="1.5" fill="#111"/>
<rect x="476.65" y="34.25" width="1.5" height="1.5" fill="#111"/>
<rect x="479.65" y="44.05" width="1.5" height="1.5" fill="#111"/>
<rect x="482.15" y="51.45" width="1.5" height="1.5" fill="#111"/>
<rect x="484.05" y="53.55" width="1.5" height="1.5" fill="#111"/>
<rect x="457.85" y="42.15" width="1.5" height="1.5" fill="#111"/>
<rect x="456.95" y="43.15" width="1.5" height="1.5" fill="#111"/>
<rect x="454.85" y="48.85" width="1.5" height="1.5" fill="#111"/>
<rect x="454.45" y="52.05" width="1.5" height="1.5" fill="#111"/>
<rect x="452.25" y="57.65" width="1.5" height="1.5" fill="#111"/>
<rect x="496.05" y="90.35" width="1.5" height="1.5" fill="#111"/>
<rect x="497.35" y="97.35" width="1.5" height="1.5" fill="#111"/>
<rect x="499.95" y="100.55" width="1.5" height="1.5" fill="#111"/>
<rect x="501.45" y="103.65" width="1.5" height="1.5" fill="#111"/>
<rect x="502.75" y="108.65" width="1.5" height="1.5" fill="#111"/>
<rect x="505.25" y="105.25" width="1.5" height="1.5" fill="#111"/>
<rect x="507.85" y="107.25" width="1.5" height="1.5" fill="#111"/>
<rect x="509.25" y="113.75" width="1.5" height="1.5" fill="#111"/>
<rect x="510.65" y="110.85" width="1.5" height="1.5" fill="#111"/>
<rect x="512.35" y="111.75" width="1.5" height="1.5" fill="#111"/>
<rect x="514.05" y="113.15" width="1.5" height="1.5" fill="#111"/>
<rect x="516.25" y="116.45" width="1.5" height="1.5" fill="#111"/>
<rect x="517.95" y="116.25" width="1.5" height="1.5" fill="#111"/>
<rect x="519.45" y="118.25" width="1.5" height="1.5" fill="#111"/>
<rect x="522.15" y="113.15" width="1.5" height="1.5" fill="#111"/>
<rect x="523.55" y="117.15" width="1.5" height="1.5" fill="#111"/>
<rect x="525.05" y="116.05" width="1.5" height="1.5" fill="#111"/>
<rect x="526.65" y="115.65" width="1.5" height="1.5" fill="#111"/>
<rect x="528.05" y="116.05" width="1.5" height="1.5" fill="#111"/>
<rect x="530.35" y="113.15" width="1.5" height="1.5" fill="#111"/>
<rect x="531.45" y="118.25" width="1.5" height="1.5" fill="#111"/>
<rect x="532.95" y="115.35" width="1.5" height="1.5" fill="#111"/>
<rect x="534.25" y="118.55" width="1.5" height="1.5" fill="#111"/>
</g>
<rect x="398.50" y="14.30" width="143.20" height="110.10" fill="none" stroke="#bcbcbc" stroke-width="0.7"/>
<line x1="416.30" y1="124.40" x2="416.30" y2="123.10" stroke="#bcbcbc" stroke-width="0.6"/>
<line x1="416.30" y1="14.30" x2="416.30" y2="15.60" stroke="#bcbcbc" stroke-width="0.6"/>
<line x1="434.33" y1="124.40" x2="434.33" y2="123.10" stroke="#bcbcbc" stroke-width="0.6"/>
<line x1="434.33" y1="14.30" x2="434.33" y2="15.60" stroke="#bcbcbc" stroke-width="0.6"/>
<line x1="452.37" y1="124.40" x2="452.37" y2="123.10" stroke="#bcbcbc" stroke-width="0.6"/>
<line x1="452.37" y1="14.30" x2="452.37" y2="15.60" stroke="#bcbcbc" stroke-width="0.6"/>
<line x1="470.40" y1="124.40" x2="470.40" y2="123.10" stroke="#bcbcbc" stroke-width="0.6"/>
<line x1="470.40" y1="14.30" x2="470.40" y2="15.60" stroke="#bcbcbc" stroke-width="0.6"/>
<line x1="488.43" y1="124.40" x2="488.43" y2="123.10" stroke="#bcbcbc" stroke-width="0.6"/>
<line x1="488.43" y1="14.30" x2="488.43" y2="15.60" stroke="#bcbcbc" stroke-width="0.6"/>
<line x1="506.47" y1="124.40" x2="506.47" y2="123.10" stroke="#bcbcbc" stroke-width="0.6"/>
<line x1="506.47" y1="14.30" x2="506.47" y2="15.60" stroke="#bcbcbc" stroke-width="0.6"/>
<line x1="524.50" y1="124.40" x2="524.50" y2="123.10" stroke="#bcbcbc" stroke-width="0.6"/>
<line x1="524.50" y1="14.30" x2="524.50" y2="15.60" stroke="#bcbcbc" stroke-width="0.6"/>
<line x1="398.50" y1="119.70" x2="399.80" y2="119.70" stroke="#bcbcbc" stroke-width="0.6"/>
<line x1="541.70" y1="119.70" x2="540.40" y2="119.70" stroke="#bcbcbc" stroke-width="0.6"/>
<line x1="398.50" y1="107.94" x2="399.80" y2="107.94" stroke="#bcbcbc" stroke-width="0.6"/>
<line x1="541.70" y1="107.94" x2="540.40" y2="107.94" stroke="#bcbcbc" stroke-width="0.6"/>
<line x1="398.50" y1="96.17" x2="399.80" y2="96.17" stroke="#bcbcbc" stroke-width="0.6"/>
<line x1="541.70" y1="96.17" x2="540.40" y2="96.17" stroke="#bcbcbc" stroke-width="0.6"/>
<line x1="398.50" y1="84.41" x2="399.80" y2="84.41" stroke="#bcbcbc" stroke-width="0.6"/>
<line x1="541.70" y1="84.41" x2="540.40" y2="84.41" stroke="#bcbcbc" stroke-width="0.6"/>
<line x1="398.50" y1="72.65" x2="399.80" y2="72.65" stroke="#bcbcbc" stroke-width="0.6"/>
<line x1="541.70" y1="72.65" x2="540.40" y2="72.65" stroke="#bcbcbc" stroke-width="0.6"/>
<line x1="398.50" y1="60.89" x2="399.80" y2="60.89" stroke="#bcbcbc" stroke-width="0.6"/>
<line x1="541.70" y1="60.89" x2="540.40" y2="60.89" stroke="#bcbcbc" stroke-width="0.6"/>
<line x1="398.50" y1="49.12" x2="399.80" y2="49.12" stroke="#bcbcbc" stroke-width="0.6"/>
<line x1="541.70" y1="49.12" x2="540.40" y2="49.12" stroke="#bcbcbc" stroke-width="0.6"/>
<line x1="398.50" y1="37.36" x2="399.80" y2="37.36" stroke="#bcbcbc" stroke-width="0.6"/>
<line x1="541.70" y1="37.36" x2="540.40" y2="37.36" stroke="#bcbcbc" stroke-width="0.6"/>
<line x1="398.50" y1="25.60" x2="399.80" y2="25.60" stroke="#bcbcbc" stroke-width="0.6"/>
<line x1="541.70" y1="25.60" x2="540.40" y2="25.60" stroke="#bcbcbc" stroke-width="0.6"/>
<text x="416.30" y="131.70" text-anchor="middle" class="t">40</text>
<text x="434.33" y="131.70" text-anchor="middle" class="t">50</text>
<text x="452.37" y="131.70" text-anchor="middle" class="t">60</text>
<text x="470.40" y="131.70" text-anchor="middle" class="t">70</text>
<text x="488.43" y="131.70" text-anchor="middle" class="t">80</text>
<text x="506.47" y="131.70" text-anchor="middle" class="t">90</text>
<text x="524.50" y="131.70" text-anchor="middle" class="t">100</text>
<text x="396.90" y="122.10" text-anchor="end" class="t">0</text>
<text x="396.90" y="110.34" text-anchor="end" class="t">0.005</text>
<text x="396.90" y="98.58" text-anchor="end" class="t">0.01</text>
<text x="396.90" y="86.81" text-anchor="end" class="t">0.015</text>
<text x="396.90" y="75.05" text-anchor="end" class="t">0.02</text>
<text x="396.90" y="63.29" text-anchor="end" class="t">0.025</text>
<text x="396.90" y="51.52" text-anchor="end" class="t">0.03</text>
<text x="396.90" y="39.76" text-anchor="end" class="t">0.035</text>
<text x="396.90" y="28.00" text-anchor="end" class="t">0.04</text>
<text x="470.9" y="137.8" text-anchor="middle" class="t">Pixel Values</text>
<text transform="translate(382.7,69.35) rotate(-90)" text-anchor="middle" class="t">Ratio</text>
<rect x="484.6" y="20.1" width="55.30" height="18.80" fill="#fff" stroke="#8a8a8a" stroke-width="0.6"/>
<rect x="489.80" y="23.30" width="1.6" height="1.6" fill="#111"/>
<text x="497.0" y="25.90" class="t" style="font-size:5.2px">Experimental data</text>
<line x1="486.2" y1="30.20" x2="495.5" y2="30.20" stroke="#2a7cc9" stroke-width="0.95"/>
<text x="497.0" y="32.00" class="t" style="font-size:5.2px">Analytical value</text>
<line x1="486.2" y1="36.00" x2="495.5" y2="36.00" stroke="#bcd7f2" stroke-width="0.7"/>
<text x="497.0" y="37.80" class="t" style="font-size:5.2px">Range of fit</text>
<line x1="38.00" y1="162.50" x2="38.00" y2="279.10" stroke="#eeeeee" stroke-width="0.6"/>
<line x1="65.46" y1="162.50" x2="65.46" y2="279.10" stroke="#eeeeee" stroke-width="0.6"/>
<line x1="92.92" y1="162.50" x2="92.92" y2="279.10" stroke="#eeeeee" stroke-width="0.6"/>
<line x1="120.38" y1="162.50" x2="120.38" y2="279.10" stroke="#eeeeee" stroke-width="0.6"/>
<line x1="147.84" y1="162.50" x2="147.84" y2="279.10" stroke="#eeeeee" stroke-width="0.6"/>
<line x1="175.30" y1="162.50" x2="175.30" y2="279.10" stroke="#eeeeee" stroke-width="0.6"/>
<line x1="31.80" y1="264.70" x2="181.90" y2="264.70" stroke="#eeeeee" stroke-width="0.6"/>
<line x1="31.80" y1="246.46" x2="181.90" y2="246.46" stroke="#eeeeee" stroke-width="0.6"/>
<line x1="31.80" y1="228.22" x2="181.90" y2="228.22" stroke="#eeeeee" stroke-width="0.6"/>
<line x1="31.80" y1="209.98" x2="181.90" y2="209.98" stroke="#eeeeee" stroke-width="0.6"/>
<line x1="31.80" y1="191.74" x2="181.90" y2="191.74" stroke="#eeeeee" stroke-width="0.6"/>
<line x1="31.80" y1="173.50" x2="181.90" y2="173.50" stroke="#eeeeee" stroke-width="0.6"/>
<clipPath id="c3"><rect x="31.80" y="162.50" width="150.10" height="116.60"/></clipPath>
<g clip-path="url(#c3)">
<polyline points="24.27,263.44 24.82,263.42 25.37,263.39 25.92,263.36 26.47,263.33 27.02,263.30 27.57,263.26 28.11,263.22 28.66,263.17 29.21,263.12 29.76,263.06 30.31,262.99 30.86,262.92 31.41,262.84 31.96,262.76 32.51,262.66 33.06,262.55 33.61,262.44 34.16,262.31 34.70,262.17 35.25,262.02 35.80,261.85 36.35,261.67 36.90,261.47 37.45,261.25 38.00,261.02 38.55,260.77 39.10,260.49 39.65,260.19 40.20,259.87 40.75,259.53 41.30,259.16 41.84,258.76 42.39,258.33 42.94,257.86 43.49,257.37 44.04,256.84 44.59,256.28 45.14,255.68 45.69,255.04 46.24,254.36 46.79,253.64 47.34,252.88 47.89,252.08 48.43,251.22 48.98,250.33 49.53,249.38 50.08,248.39 50.63,247.34 51.18,246.25 51.73,245.11 52.28,243.91 52.83,242.67 53.38,241.37 53.93,240.02 54.48,238.63 55.03,237.18 55.57,235.68 56.12,234.13 56.67,232.54 57.22,230.90 57.77,229.22 58.32,227.50 58.87,225.74 59.42,223.94 59.97,222.10 60.52,220.24 61.07,218.35 61.62,216.43 62.16,214.50 62.71,212.55 63.26,210.58 63.81,208.61 64.36,206.64 64.91,204.67 65.46,202.71 66.01,200.76 66.56,198.83 67.11,196.92 67.66,195.04 68.21,193.19 68.76,191.39 69.30,189.63 69.85,187.92 70.40,186.27 70.95,184.68 71.50,183.16 72.05,181.71 72.60,180.34 73.15,179.05 73.70,177.85 74.25,176.73 74.80,175.72 75.35,174.80 75.89,173.98 76.44,173.27 76.99,172.66 77.54,172.17 78.09,171.78 78.64,171.51 79.19,171.36 79.74,171.31 80.29,171.38 80.84,171.57 81.39,171.87 81.94,172.28 82.49,172.80 83.03,173.44 83.58,174.18 84.13,175.02 84.68,175.96 85.23,177.00 85.78,178.14 86.33,179.36 86.88,180.67 87.43,182.07 87.98,183.53 88.53,185.07 89.08,186.68 89.62,188.34 90.17,190.06 90.72,191.84 91.27,193.65 91.82,195.50 92.37,197.39 92.92,199.31 93.47,201.24 94.02,203.20 94.57,205.16 95.12,207.13 95.67,209.11 96.22,211.07 96.76,213.03 97.31,214.98 97.86,216.91 98.41,218.82 98.96,220.71 99.51,222.57 100.06,224.39 100.61,226.18 101.16,227.93 101.71,229.65 102.26,231.32 102.81,232.94 103.35,234.53 103.90,236.06 104.45,237.54 105.00,238.98 105.55,240.37 106.10,241.70 106.65,242.98 107.20,244.22 107.75,245.40 108.30,246.53 108.85,247.61 109.40,248.64 109.95,249.62 110.49,250.56 111.04,251.44 111.59,252.28 112.14,253.08 112.69,253.83 113.24,254.54 113.79,255.21 114.34,255.83 114.89,256.43 115.44,256.98 115.99,257.50 116.54,257.98 117.08,258.44 117.63,258.86 118.18,259.25 118.73,259.62 119.28,259.96 119.83,260.27 120.38,260.56 120.93,260.83 121.48,261.08 122.03,261.31 122.58,261.52 123.13,261.71 123.68,261.89 124.22,262.06 124.77,262.21 125.32,262.34 125.87,262.47 126.42,262.58 126.97,262.68 127.52,262.78 128.07,262.86 128.62,262.94 129.17,263.01 129.72,263.07 130.27,263.13 130.81,263.18 131.36,263.23 131.91,263.27 132.46,263.31 133.01,263.34 133.56,263.37 134.11,263.40 134.66,263.42 135.21,263.44 135.76,263.46 136.31,263.48 136.86,263.50 137.41,263.51 137.95,263.52 138.50,263.53 139.05,263.54 139.60,263.55 140.15,263.56 140.70,263.56 141.25,263.57 141.80,263.57 142.35,263.58 142.90,263.58 143.45,263.58 144.00,263.59 144.54,263.59 145.09,263.59 145.64,263.59 146.19,263.60 146.74,263.60 147.29,263.60 147.84,263.60 148.39,263.60 148.94,263.60 149.49,263.60 150.04,263.60 150.59,263.60 151.14,263.60 151.68,263.60 152.23,263.60 152.78,263.60 153.33,263.60 153.88,263.60 154.43,263.60 154.98,263.60 155.53,263.60 156.08,263.61 156.63,263.61 157.18,263.61 157.73,263.61 158.27,263.61 158.82,263.61 159.37,263.61 159.92,263.61 160.47,263.61 161.02,263.61 161.57,263.61 162.12,263.61 162.67,263.61 163.22,263.61 163.77,263.61 164.32,263.61 164.87,263.61 165.41,263.61 165.96,263.61 166.51,263.61 167.06,263.61 167.61,263.61 168.16,263.61 168.71,263.61 169.26,263.61 169.81,263.61 170.36,263.61 170.91,263.61 171.46,263.61 172.00,263.61 172.55,263.61 173.10,263.61 173.65,263.61 174.20,263.61 174.75,263.61 175.30,263.61 175.85,263.61 176.40,263.61 176.95,263.61 177.50,263.61 178.05,263.61 178.60,263.61 179.14,263.61 179.69,263.61 180.24,263.61 180.79,263.61 181.34,263.61 181.89,263.61 182.44,263.61 182.99,263.61 183.54,263.61 184.09,263.61 184.64,263.61 185.19,263.61 185.73,263.61 186.28,263.61 186.83,263.61 187.38,263.61 187.93,263.61 188.48,263.61 189.03,263.61" fill="none" stroke="#bcd7f2" stroke-width="0.7" stroke-linejoin="round" stroke-linecap="round"/>
<polyline points="24.27,302.11 24.82,302.09 25.37,302.06 25.92,302.03 26.47,302.00 27.02,301.97 27.57,301.93 28.11,301.89 28.66,301.84 29.21,301.79 29.76,301.73 30.31,301.66 30.86,301.59 31.41,301.51 31.96,301.42 32.51,301.33 33.06,301.22 33.61,301.11 34.16,300.98 34.70,300.84 35.25,300.69 35.80,300.52 36.35,300.34 36.90,300.14 37.45,299.92 38.00,299.69 38.55,299.44 39.10,299.16 39.65,298.86 40.20,298.54 40.75,298.20 41.30,297.82 41.84,297.42 42.39,296.99 42.94,296.53 43.49,296.04 44.04,295.51 44.59,294.95 45.14,294.35 45.69,293.71 46.24,293.03 46.79,292.31 47.34,291.55 47.89,290.74 48.43,289.89 48.98,289.00 49.53,288.05 50.08,287.06 50.63,286.01 51.18,284.92 51.73,283.78 52.28,282.58 52.83,281.34 53.38,280.04 53.93,278.69 54.48,277.29 55.03,275.85 55.57,274.35 56.12,272.80 56.67,271.21 57.22,269.57 57.77,267.89 58.32,266.17 58.87,264.41 59.42,262.61 59.97,260.77 60.52,258.91 61.07,257.02 61.62,255.10 62.16,253.17 62.71,251.21 63.26,249.25 63.81,247.28 64.36,245.31 64.91,243.34 65.46,241.38 66.01,239.43 66.56,237.49 67.11,235.59 67.66,233.71 68.21,231.86 68.76,230.06 69.30,228.30 69.85,226.59 70.40,224.94 70.95,223.35 71.50,221.83 72.05,220.38 72.60,219.01 73.15,217.72 73.70,216.52 74.25,215.40 74.80,214.39 75.35,213.47 75.89,212.65 76.44,211.94 76.99,211.33 77.54,210.84 78.09,210.45 78.64,210.18 79.19,210.02 79.74,209.98 80.29,210.05 80.84,210.24 81.39,210.54 81.94,210.95 82.49,211.47 83.03,212.11 83.58,212.84 84.13,213.69 84.68,214.63 85.23,215.67 85.78,216.81 86.33,218.03 86.88,219.34 87.43,220.74 87.98,222.20 88.53,223.74 89.08,225.35 89.62,227.01 90.17,228.73 90.72,230.50 91.27,232.32 91.82,234.17 92.37,236.06 92.92,237.98 93.47,239.91 94.02,241.87 94.57,243.83 95.12,245.80 95.67,247.77 96.22,249.74 96.76,251.70 97.31,253.65 97.86,255.58 98.41,257.49 98.96,259.38 99.51,261.23 100.06,263.06 100.61,264.85 101.16,266.60 101.71,268.32 102.26,269.99 102.81,271.61 103.35,273.19 103.90,274.73 104.45,276.21 105.00,277.65 105.55,279.03 106.10,280.37 106.65,281.65 107.20,282.89 107.75,284.07 108.30,285.20 108.85,286.28 109.40,287.31 109.95,288.29 110.49,289.22 111.04,290.11 111.59,290.95 112.14,291.75 112.69,292.50 113.24,293.21 113.79,293.87 114.34,294.50 114.89,295.09 115.44,295.65 115.99,296.17 116.54,296.65 117.08,297.10 117.63,297.53 118.18,297.92 118.73,298.29 119.28,298.63 119.83,298.94 120.38,299.23 120.93,299.50 121.48,299.75 122.03,299.98 122.58,300.19 123.13,300.38 123.68,300.56 124.22,300.72 124.77,300.87 125.32,301.01 125.87,301.14 126.42,301.25 126.97,301.35 127.52,301.45 128.07,301.53 128.62,301.61 129.17,301.68 129.72,301.74 130.27,301.80 130.81,301.85 131.36,301.90 131.91,301.94 132.46,301.98 133.01,302.01 133.56,302.04 134.11,302.07 134.66,302.09 135.21,302.11 135.76,302.13 136.31,302.15 136.86,302.16 137.41,302.18 137.95,302.19 138.50,302.20 139.05,302.21 139.60,302.22 140.15,302.22 140.70,302.23 141.25,302.24 141.80,302.24 142.35,302.25 142.90,302.25 143.45,302.25 144.00,302.26 144.54,302.26 145.09,302.26 145.64,302.26 146.19,302.26 146.74,302.27 147.29,302.27 147.84,302.27 148.39,302.27 148.94,302.27 149.49,302.27 150.04,302.27 150.59,302.27 151.14,302.27 151.68,302.27 152.23,302.27 152.78,302.27 153.33,302.27 153.88,302.27 154.43,302.27 154.98,302.27 155.53,302.27 156.08,302.27 156.63,302.27 157.18,302.27 157.73,302.27 158.27,302.27 158.82,302.27 159.37,302.27 159.92,302.27 160.47,302.27 161.02,302.27 161.57,302.27 162.12,302.27 162.67,302.27 163.22,302.27 163.77,302.27 164.32,302.27 164.87,302.27 165.41,302.27 165.96,302.27 166.51,302.27 167.06,302.27 167.61,302.27 168.16,302.27 168.71,302.27 169.26,302.27 169.81,302.27 170.36,302.27 170.91,302.27 171.46,302.27 172.00,302.27 172.55,302.27 173.10,302.27 173.65,302.27 174.20,302.27 174.75,302.27 175.30,302.27 175.85,302.27 176.40,302.27 176.95,302.27 177.50,302.27 178.05,302.27 178.60,302.27 179.14,302.27 179.69,302.27 180.24,302.27 180.79,302.27 181.34,302.27 181.89,302.27 182.44,302.27 182.99,302.27 183.54,302.27 184.09,302.27 184.64,302.27 185.19,302.27 185.73,302.27 186.28,302.27 186.83,302.27 187.38,302.27 187.93,302.27 188.48,302.27 189.03,302.27" fill="none" stroke="#bcd7f2" stroke-width="0.7" stroke-linejoin="round" stroke-linecap="round"/>
<polyline points="24.27,282.77 24.82,282.75 25.37,282.73 25.92,282.70 26.47,282.67 27.02,282.63 27.57,282.60 28.11,282.55 28.66,282.50 29.21,282.45 29.76,282.39 30.31,282.33 30.86,282.26 31.41,282.18 31.96,282.09 32.51,281.99 33.06,281.89 33.61,281.77 34.16,281.64 34.70,281.50 35.25,281.35 35.80,281.18 36.35,281.00 36.90,280.80 37.45,280.59 38.00,280.35 38.55,280.10 39.10,279.83 39.65,279.53 40.20,279.21 40.75,278.86 41.30,278.49 41.84,278.09 42.39,277.66 42.94,277.20 43.49,276.71 44.04,276.18 44.59,275.62 45.14,275.02 45.69,274.38 46.24,273.70 46.79,272.98 47.34,272.22 47.89,271.41 48.43,270.56 48.98,269.66 49.53,268.72 50.08,267.72 50.63,266.68 51.18,265.59 51.73,264.44 52.28,263.25 52.83,262.00 53.38,260.71 53.93,259.36 54.48,257.96 55.03,256.51 55.57,255.01 56.12,253.47 56.67,251.88 57.22,250.24 57.77,248.56 58.32,246.83 58.87,245.07 59.42,243.27 59.97,241.44 60.52,239.57 61.07,237.68 61.62,235.77 62.16,233.83 62.71,231.88 63.26,229.92 63.81,227.95 64.36,225.97 64.91,224.00 65.46,222.04 66.01,220.09 66.56,218.16 67.11,216.25 67.66,214.37 68.21,212.53 68.76,210.72 69.30,208.96 69.85,207.26 70.40,205.61 70.95,204.02 71.50,202.49 72.05,201.05 72.60,199.67 73.15,198.38 73.70,197.18 74.25,196.07 74.80,195.05 75.35,194.13 75.89,193.32 76.44,192.60 76.99,192.00 77.54,191.50 78.09,191.12 78.64,190.85 79.19,190.69 79.74,190.65 80.29,190.72 80.84,190.90 81.39,191.20 81.94,191.62 82.49,192.14 83.03,192.77 83.58,193.51 84.13,194.35 84.68,195.30 85.23,196.34 85.78,197.47 86.33,198.70 86.88,200.01 87.43,201.40 87.98,202.87 88.53,204.41 89.08,206.01 89.62,207.68 90.17,209.40 90.72,211.17 91.27,212.99 91.82,214.84 92.37,216.73 92.92,218.64 93.47,220.58 94.02,222.53 94.57,224.50 95.12,226.47 95.67,228.44 96.22,230.41 96.76,232.37 97.31,234.32 97.86,236.25 98.41,238.16 98.96,240.04 99.51,241.90 100.06,243.72 100.61,245.52 101.16,247.27 101.71,248.98 102.26,250.65 102.81,252.28 103.35,253.86 103.90,255.39 104.45,256.88 105.00,258.31 105.55,259.70 106.10,261.03 106.65,262.32 107.20,263.55 107.75,264.73 108.30,265.86 108.85,266.94 109.40,267.97 109.95,268.96 110.49,269.89 111.04,270.78 111.59,271.62 112.14,272.41 112.69,273.16 113.24,273.87 113.79,274.54 114.34,275.17 114.89,275.76 115.44,276.31 115.99,276.83 116.54,277.32 117.08,277.77 117.63,278.19 118.18,278.59 118.73,278.95 119.28,279.29 119.83,279.61 120.38,279.90 120.93,280.17 121.48,280.42 122.03,280.64 122.58,280.86 123.13,281.05 123.68,281.23 124.22,281.39 124.77,281.54 125.32,281.68 125.87,281.80 126.42,281.91 126.97,282.02 127.52,282.11 128.07,282.20 128.62,282.27 129.17,282.34 129.72,282.41 130.27,282.47 130.81,282.52 131.36,282.56 131.91,282.61 132.46,282.64 133.01,282.68 133.56,282.71 134.11,282.73 134.66,282.76 135.21,282.78 135.76,282.80 136.31,282.81 136.86,282.83 137.41,282.84 137.95,282.86 138.50,282.87 139.05,282.88 139.60,282.88 140.15,282.89 140.70,282.90 141.25,282.90 141.80,282.91 142.35,282.91 142.90,282.92 143.45,282.92 144.00,282.92 144.54,282.92 145.09,282.93 145.64,282.93 146.19,282.93 146.74,282.93 147.29,282.93 147.84,282.93 148.39,282.93 148.94,282.94 149.49,282.94 150.04,282.94 150.59,282.94 151.14,282.94 151.68,282.94 152.23,282.94 152.78,282.94 153.33,282.94 153.88,282.94 154.43,282.94 154.98,282.94 155.53,282.94 156.08,282.94 156.63,282.94 157.18,282.94 157.73,282.94 158.27,282.94 158.82,282.94 159.37,282.94 159.92,282.94 160.47,282.94 161.02,282.94 161.57,282.94 162.12,282.94 162.67,282.94 163.22,282.94 163.77,282.94 164.32,282.94 164.87,282.94 165.41,282.94 165.96,282.94 166.51,282.94 167.06,282.94 167.61,282.94 168.16,282.94 168.71,282.94 169.26,282.94 169.81,282.94 170.36,282.94 170.91,282.94 171.46,282.94 172.00,282.94 172.55,282.94 173.10,282.94 173.65,282.94 174.20,282.94 174.75,282.94 175.30,282.94 175.85,282.94 176.40,282.94 176.95,282.94 177.50,282.94 178.05,282.94 178.60,282.94 179.14,282.94 179.69,282.94 180.24,282.94 180.79,282.94 181.34,282.94 181.89,282.94 182.44,282.94 182.99,282.94 183.54,282.94 184.09,282.94 184.64,282.94 185.19,282.94 185.73,282.94 186.28,282.94 186.83,282.94 187.38,282.94 187.93,282.94 188.48,282.94 189.03,282.94" fill="none" stroke="#2a7cc9" stroke-width="1.1" stroke-linejoin="round" stroke-linecap="round"/>
<rect x="37.65" y="272.75" width="1.5" height="1.5" fill="#111"/>
<rect x="38.85" y="267.75" width="1.5" height="1.5" fill="#111"/>
<rect x="40.05" y="268.05" width="1.5" height="1.5" fill="#111"/>
<rect x="41.25" y="268.55" width="1.5" height="1.5" fill="#111"/>
<rect x="42.55" y="268.85" width="1.5" height="1.5" fill="#111"/>
<rect x="43.55" y="269.05" width="1.5" height="1.5" fill="#111"/>
<rect x="44.75" y="268.75" width="1.5" height="1.5" fill="#111"/>
<rect x="45.95" y="264.85" width="1.5" height="1.5" fill="#111"/>
<rect x="47.75" y="268.35" width="1.5" height="1.5" fill="#111"/>
<rect x="50.15" y="263.55" width="1.5" height="1.5" fill="#111"/>
<rect x="51.35" y="263.25" width="1.5" height="1.5" fill="#111"/>
<rect x="52.55" y="263.95" width="1.5" height="1.5" fill="#111"/>
<rect x="54.35" y="266.35" width="1.5" height="1.5" fill="#111"/>
<rect x="55.65" y="267.75" width="1.5" height="1.5" fill="#111"/>
<rect x="56.95" y="264.95" width="1.5" height="1.5" fill="#111"/>
<rect x="58.55" y="261.35" width="1.5" height="1.5" fill="#111"/>
<rect x="59.85" y="257.95" width="1.5" height="1.5" fill="#111"/>
<rect x="61.05" y="248.35" width="1.5" height="1.5" fill="#111"/>
<rect x="62.45" y="238.85" width="1.5" height="1.5" fill="#111"/>
<rect x="63.95" y="222.65" width="1.5" height="1.5" fill="#111"/>
<rect x="65.65" y="214.95" width="1.5" height="1.5" fill="#111"/>
<rect x="66.55" y="198.45" width="1.5" height="1.5" fill="#111"/>
<rect x="68.05" y="192.15" width="1.5" height="1.5" fill="#111"/>
<rect x="69.45" y="196.45" width="1.5" height="1.5" fill="#111"/>
<rect x="70.75" y="181.45" width="1.5" height="1.5" fill="#111"/>
<rect x="72.05" y="182.45" width="1.5" height="1.5" fill="#111"/>
<rect x="73.65" y="180.25" width="1.5" height="1.5" fill="#111"/>
<rect x="74.75" y="185.05" width="1.5" height="1.5" fill="#111"/>
<rect x="76.25" y="184.35" width="1.5" height="1.5" fill="#111"/>
<rect x="77.85" y="192.15" width="1.5" height="1.5" fill="#111"/>
<rect x="79.15" y="193.05" width="1.5" height="1.5" fill="#111"/>
<rect x="80.55" y="197.95" width="1.5" height="1.5" fill="#111"/>
<rect x="81.85" y="205.55" width="1.5" height="1.5" fill="#111"/>
<rect x="83.35" y="212.35" width="1.5" height="1.5" fill="#111"/>
<rect x="84.75" y="202.65" width="1.5" height="1.5" fill="#111"/>
<rect x="86.25" y="204.15" width="1.5" height="1.5" fill="#111"/>
<rect x="87.65" y="207.25" width="1.5" height="1.5" fill="#111"/>
<rect x="90.15" y="218.15" width="1.5" height="1.5" fill="#111"/>
<rect x="92.05" y="224.65" width="1.5" height="1.5" fill="#111"/>
<rect x="93.05" y="225.45" width="1.5" height="1.5" fill="#111"/>
<rect x="94.45" y="216.75" width="1.5" height="1.5" fill="#111"/>
<rect x="95.65" y="229.45" width="1.5" height="1.5" fill="#111"/>
<rect x="96.85" y="230.25" width="1.5" height="1.5" fill="#111"/>
<rect x="98.05" y="231.25" width="1.5" height="1.5" fill="#111"/>
<rect x="100.05" y="232.75" width="1.5" height="1.5" fill="#111"/>
<rect x="101.15" y="231.95" width="1.5" height="1.5" fill="#111"/>
<rect x="103.95" y="241.25" width="1.5" height="1.5" fill="#111"/>
<rect x="102.65" y="231.65" width="1.7" height="1.7" fill="#f00"/>
<rect x="105.55" y="235.05" width="1.7" height="1.7" fill="#f00"/>
<rect x="106.85" y="244.35" width="1.7" height="1.7" fill="#f00"/>
<rect x="108.45" y="243.45" width="1.7" height="1.7" fill="#f00"/>
<rect x="109.45" y="243.15" width="1.7" height="1.7" fill="#f00"/>
<rect x="110.85" y="236.65" width="1.7" height="1.7" fill="#f00"/>
<rect x="112.35" y="247.25" width="1.7" height="1.7" fill="#f00"/>
<rect x="114.05" y="248.35" width="1.7" height="1.7" fill="#f00"/>
<rect x="115.15" y="247.25" width="1.7" height="1.7" fill="#f00"/>
<rect x="116.15" y="250.45" width="1.7" height="1.7" fill="#f00"/>
<rect x="117.55" y="244.65" width="1.7" height="1.7" fill="#f00"/>
<rect x="119.75" y="247.95" width="1.7" height="1.7" fill="#f00"/>
<rect x="120.75" y="248.35" width="1.7" height="1.7" fill="#f00"/>
<rect x="122.35" y="255.05" width="1.7" height="1.7" fill="#f00"/>
<rect x="122.85" y="252.95" width="1.7" height="1.7" fill="#f00"/>
<rect x="124.45" y="253.95" width="1.7" height="1.7" fill="#f00"/>
<rect x="126.15" y="260.75" width="1.7" height="1.7" fill="#f00"/>
<rect x="128.05" y="257.35" width="1.7" height="1.7" fill="#f00"/>
<rect x="128.85" y="256.65" width="1.7" height="1.7" fill="#f00"/>
<rect x="130.35" y="254.45" width="1.7" height="1.7" fill="#f00"/>
<rect x="131.85" y="259.95" width="1.7" height="1.7" fill="#f00"/>
<rect x="133.05" y="257.25" width="1.7" height="1.7" fill="#f00"/>
<rect x="134.85" y="260.75" width="1.7" height="1.7" fill="#f00"/>
<rect x="136.55" y="261.15" width="1.7" height="1.7" fill="#f00"/>
<rect x="138.25" y="262.25" width="1.7" height="1.7" fill="#f00"/>
<rect x="139.95" y="264.45" width="1.7" height="1.7" fill="#f00"/>
<rect x="141.25" y="262.85" width="1.7" height="1.7" fill="#f00"/>
<rect x="142.75" y="264.45" width="1.7" height="1.7" fill="#f00"/>
<rect x="144.25" y="260.75" width="1.7" height="1.7" fill="#f00"/>
<rect x="145.55" y="268.25" width="1.7" height="1.7" fill="#f00"/>
<rect x="147.25" y="264.85" width="1.7" height="1.7" fill="#f00"/>
<rect x="148.95" y="266.15" width="1.7" height="1.7" fill="#f00"/>
<rect x="150.65" y="267.85" width="1.7" height="1.7" fill="#f00"/>
<rect x="152.35" y="266.15" width="1.7" height="1.7" fill="#f00"/>
<rect x="153.65" y="268.65" width="1.7" height="1.7" fill="#f00"/>
<rect x="155.15" y="268.25" width="1.7" height="1.7" fill="#f00"/>
<rect x="157.05" y="270.15" width="1.7" height="1.7" fill="#f00"/>
<rect x="158.55" y="271.25" width="1.7" height="1.7" fill="#f00"/>
<rect x="159.65" y="272.95" width="1.7" height="1.7" fill="#f00"/>
<rect x="160.75" y="270.65" width="1.7" height="1.7" fill="#f00"/>
<rect x="162.45" y="269.35" width="1.7" height="1.7" fill="#f00"/>
<rect x="164.15" y="271.25" width="1.7" height="1.7" fill="#f00"/>
<rect x="165.85" y="272.35" width="1.7" height="1.7" fill="#f00"/>
<rect x="167.55" y="272.75" width="1.7" height="1.7" fill="#f00"/>
<rect x="169.25" y="272.05" width="1.7" height="1.7" fill="#f00"/>
<rect x="170.85" y="272.35" width="1.7" height="1.7" fill="#f00"/>
<rect x="172.55" y="272.95" width="1.7" height="1.7" fill="#f00"/>
<rect x="174.25" y="272.35" width="1.7" height="1.7" fill="#f00"/>
</g>
<rect x="31.80" y="162.50" width="150.10" height="116.60" fill="none" stroke="#bcbcbc" stroke-width="0.7"/>
<line x1="38.00" y1="279.10" x2="38.00" y2="277.80" stroke="#bcbcbc" stroke-width="0.6"/>
<line x1="38.00" y1="162.50" x2="38.00" y2="163.80" stroke="#bcbcbc" stroke-width="0.6"/>
<line x1="65.46" y1="279.10" x2="65.46" y2="277.80" stroke="#bcbcbc" stroke-width="0.6"/>
<line x1="65.46" y1="162.50" x2="65.46" y2="163.80" stroke="#bcbcbc" stroke-width="0.6"/>
<line x1="92.92" y1="279.10" x2="92.92" y2="277.80" stroke="#bcbcbc" stroke-width="0.6"/>
<line x1="92.92" y1="162.50" x2="92.92" y2="163.80" stroke="#bcbcbc" stroke-width="0.6"/>
<line x1="120.38" y1="279.10" x2="120.38" y2="277.80" stroke="#bcbcbc" stroke-width="0.6"/>
<line x1="120.38" y1="162.50" x2="120.38" y2="163.80" stroke="#bcbcbc" stroke-width="0.6"/>
<line x1="147.84" y1="279.10" x2="147.84" y2="277.80" stroke="#bcbcbc" stroke-width="0.6"/>
<line x1="147.84" y1="162.50" x2="147.84" y2="163.80" stroke="#bcbcbc" stroke-width="0.6"/>
<line x1="175.30" y1="279.10" x2="175.30" y2="277.80" stroke="#bcbcbc" stroke-width="0.6"/>
<line x1="175.30" y1="162.50" x2="175.30" y2="163.80" stroke="#bcbcbc" stroke-width="0.6"/>
<line x1="31.80" y1="264.70" x2="33.10" y2="264.70" stroke="#bcbcbc" stroke-width="0.6"/>
<line x1="181.90" y1="264.70" x2="180.60" y2="264.70" stroke="#bcbcbc" stroke-width="0.6"/>
<line x1="31.80" y1="246.46" x2="33.10" y2="246.46" stroke="#bcbcbc" stroke-width="0.6"/>
<line x1="181.90" y1="246.46" x2="180.60" y2="246.46" stroke="#bcbcbc" stroke-width="0.6"/>
<line x1="31.80" y1="228.22" x2="33.10" y2="228.22" stroke="#bcbcbc" stroke-width="0.6"/>
<line x1="181.90" y1="228.22" x2="180.60" y2="228.22" stroke="#bcbcbc" stroke-width="0.6"/>
<line x1="31.80" y1="209.98" x2="33.10" y2="209.98" stroke="#bcbcbc" stroke-width="0.6"/>
<line x1="181.90" y1="209.98" x2="180.60" y2="209.98" stroke="#bcbcbc" stroke-width="0.6"/>
<line x1="31.80" y1="191.74" x2="33.10" y2="191.74" stroke="#bcbcbc" stroke-width="0.6"/>
<line x1="181.90" y1="191.74" x2="180.60" y2="191.74" stroke="#bcbcbc" stroke-width="0.6"/>
<line x1="31.80" y1="173.50" x2="33.10" y2="173.50" stroke="#bcbcbc" stroke-width="0.6"/>
<line x1="181.90" y1="173.50" x2="180.60" y2="173.50" stroke="#bcbcbc" stroke-width="0.6"/>
<text x="38.00" y="287.00" text-anchor="middle" class="t">40</text>
<text x="65.46" y="287.00" text-anchor="middle" class="t">60</text>
<text x="92.92" y="287.00" text-anchor="middle" class="t">80</text>
<text x="120.38" y="287.00" text-anchor="middle" class="t">100</text>
<text x="147.84" y="287.00" text-anchor="middle" class="t">120</text>
<text x="175.30" y="287.00" text-anchor="middle" class="t">140</text>
<text x="30.20" y="267.10" text-anchor="end" class="t">0.005</text>
<text x="30.20" y="248.86" text-anchor="end" class="t">0.01</text>
<text x="30.20" y="230.62" text-anchor="end" class="t">0.015</text>
<text x="30.20" y="212.38" text-anchor="end" class="t">0.02</text>
<text x="30.20" y="194.14" text-anchor="end" class="t">0.025</text>
<text x="30.20" y="175.90" text-anchor="end" class="t">0.03</text>
<text x="107.6" y="292.8" text-anchor="middle" class="r">Pixel Values</text>
<text transform="translate(15.0,220.8) rotate(-90)" text-anchor="middle" class="r">Ratio</text>
<rect x="107.1" y="167.1" width="70.70" height="28.20" fill="#fff" stroke="#8a8a8a" stroke-width="0.6"/>
<rect x="112.70" y="170.80" width="1.6" height="1.6" fill="#111"/>
<text x="119.9" y="173.40" class="t">Experimental data (in)</text>
<rect x="112.60" y="177.80" width="1.8" height="1.8" fill="#f00"/>
<text x="119.9" y="180.50" class="t">Experimnetal data (out)</text>
<line x1="108.7" y1="185.10" x2="118.7" y2="185.10" stroke="#2a7cc9" stroke-width="0.95"/>
<text x="119.9" y="186.90" class="t">Analytical value</text>
<line x1="108.7" y1="191.50" x2="118.7" y2="191.50" stroke="#bcd7f2" stroke-width="0.7"/>
<text x="119.9" y="193.30" class="t">Range of fit</text>
<line x1="223.30" y1="162.30" x2="223.30" y2="278.80" stroke="#eeeeee" stroke-width="0.6"/>
<line x1="250.80" y1="162.30" x2="250.80" y2="278.80" stroke="#eeeeee" stroke-width="0.6"/>
<line x1="278.30" y1="162.30" x2="278.30" y2="278.80" stroke="#eeeeee" stroke-width="0.6"/>
<line x1="305.80" y1="162.30" x2="305.80" y2="278.80" stroke="#eeeeee" stroke-width="0.6"/>
<line x1="333.30" y1="162.30" x2="333.30" y2="278.80" stroke="#eeeeee" stroke-width="0.6"/>
<line x1="360.80" y1="162.30" x2="360.80" y2="278.80" stroke="#eeeeee" stroke-width="0.6"/>
<line x1="216.60" y1="277.30" x2="366.70" y2="277.30" stroke="#eeeeee" stroke-width="0.6"/>
<line x1="216.60" y1="266.38" x2="366.70" y2="266.38" stroke="#eeeeee" stroke-width="0.6"/>
<line x1="216.60" y1="255.46" x2="366.70" y2="255.46" stroke="#eeeeee" stroke-width="0.6"/>
<line x1="216.60" y1="244.54" x2="366.70" y2="244.54" stroke="#eeeeee" stroke-width="0.6"/>
<line x1="216.60" y1="233.62" x2="366.70" y2="233.62" stroke="#eeeeee" stroke-width="0.6"/>
<line x1="216.60" y1="222.70" x2="366.70" y2="222.70" stroke="#eeeeee" stroke-width="0.6"/>
<line x1="216.60" y1="211.78" x2="366.70" y2="211.78" stroke="#eeeeee" stroke-width="0.6"/>
<line x1="216.60" y1="200.86" x2="366.70" y2="200.86" stroke="#eeeeee" stroke-width="0.6"/>
<line x1="216.60" y1="189.94" x2="366.70" y2="189.94" stroke="#eeeeee" stroke-width="0.6"/>
<line x1="216.60" y1="179.02" x2="366.70" y2="179.02" stroke="#eeeeee" stroke-width="0.6"/>
<line x1="216.60" y1="168.10" x2="366.70" y2="168.10" stroke="#eeeeee" stroke-width="0.6"/>
<clipPath id="c4"><rect x="216.60" y="162.30" width="150.10" height="116.50"/></clipPath>
<g clip-path="url(#c4)">
<polyline points="209.55,272.25 210.10,272.03 210.65,271.79 211.20,271.53 211.75,271.25 212.30,270.95 212.85,270.62 213.40,270.27 213.95,269.90 214.50,269.50 215.05,269.06 215.60,268.60 216.15,268.11 216.70,267.58 217.25,267.02 217.80,266.43 218.35,265.79 218.90,265.12 219.45,264.41 220.00,263.65 220.55,262.85 221.10,262.01 221.65,261.12 222.20,260.18 222.75,259.19 223.30,258.16 223.85,257.07 224.40,255.94 224.95,254.75 225.50,253.50 226.05,252.21 226.60,250.86 227.15,249.46 227.70,248.00 228.25,246.49 228.80,244.92 229.35,243.30 229.90,241.63 230.45,239.91 231.00,238.14 231.55,236.32 232.10,234.45 232.65,232.54 233.20,230.58 233.75,228.58 234.30,226.55 234.85,224.48 235.40,222.38 235.95,220.24 236.50,218.09 237.05,215.91 237.60,213.71 238.15,211.51 238.70,209.29 239.25,207.07 239.80,204.84 240.35,202.63 240.90,200.42 241.45,198.23 242.00,196.07 242.55,193.93 243.10,191.82 243.65,189.74 244.20,187.72 244.75,185.74 245.30,183.81 245.85,181.94 246.40,180.14 246.95,178.41 247.50,176.76 248.05,175.18 248.60,173.69 249.15,172.29 249.70,170.98 250.25,169.77 250.80,168.66 251.35,167.66 251.90,166.76 252.45,165.98 253.00,165.31 253.55,164.76 254.10,164.32 254.65,164.01 255.20,163.81 255.75,163.73 256.30,163.78 256.85,163.94 257.40,164.23 257.95,164.64 258.50,165.16 259.05,165.80 259.60,166.56 260.15,167.42 260.70,168.40 261.25,169.48 261.80,170.67 262.35,171.95 262.90,173.33 263.45,174.80 264.00,176.35 264.55,177.99 265.10,179.70 265.65,181.49 266.20,183.34 266.75,185.25 267.30,187.22 267.85,189.23 268.40,191.29 268.95,193.40 269.50,195.53 270.05,197.69 270.60,199.87 271.15,202.08 271.70,204.29 272.25,206.51 272.80,208.73 273.35,210.95 273.90,213.16 274.45,215.36 275.00,217.55 275.55,219.71 276.10,221.85 276.65,223.96 277.20,226.03 277.75,228.08 278.30,230.09 278.85,232.05 279.40,233.98 279.95,235.86 280.50,237.69 281.05,239.47 281.60,241.21 282.15,242.89 282.70,244.52 283.25,246.10 283.80,247.62 284.35,249.10 284.90,250.51 285.45,251.88 286.00,253.19 286.55,254.44 287.10,255.64 287.65,256.79 288.20,257.89 288.75,258.94 289.30,259.94 289.85,260.89 290.40,261.79 290.95,262.64 291.50,263.45 292.05,264.22 292.60,264.94 293.15,265.63 293.70,266.27 294.25,266.88 294.80,267.45 295.35,267.98 295.90,268.48 296.45,268.95 297.00,269.39 297.55,269.80 298.10,270.18 298.65,270.54 299.20,270.87 299.75,271.18 300.30,271.46 300.85,271.73 301.40,271.97 301.95,272.20 302.50,272.41 303.05,272.60 303.60,272.78 304.15,272.94 304.70,273.09 305.25,273.23 305.80,273.35 306.35,273.47 306.90,273.58 307.45,273.67 308.00,273.76 308.55,273.84 309.10,273.91 309.65,273.98 310.20,274.04 310.75,274.09 311.30,274.14 311.85,274.19 312.40,274.23 312.95,274.27 313.50,274.30 314.05,274.33 314.60,274.35 315.15,274.38 315.70,274.40 316.25,274.42 316.80,274.44 317.35,274.45 317.90,274.46 318.45,274.48 319.00,274.49 319.55,274.50 320.10,274.51 320.65,274.51 321.20,274.52 321.75,274.53 322.30,274.53 322.85,274.54 323.40,274.54 323.95,274.54 324.50,274.55 325.05,274.55 325.60,274.55 326.15,274.56 326.70,274.56 327.25,274.56 327.80,274.56 328.35,274.56 328.90,274.56 329.45,274.56 330.00,274.56 330.55,274.57 331.10,274.57 331.65,274.57 332.20,274.57 332.75,274.57 333.30,274.57 333.85,274.57 334.40,274.57 334.95,274.57 335.50,274.57 336.05,274.57 336.60,274.57 337.15,274.57 337.70,274.57 338.25,274.57 338.80,274.57 339.35,274.57 339.90,274.57 340.45,274.57 341.00,274.57 341.55,274.57 342.10,274.57 342.65,274.57 343.20,274.57 343.75,274.57 344.30,274.57 344.85,274.57 345.40,274.57 345.95,274.57 346.50,274.57 347.05,274.57 347.60,274.57 348.15,274.57 348.70,274.57 349.25,274.57 349.80,274.57 350.35,274.57 350.90,274.57 351.45,274.57 352.00,274.57 352.55,274.57 353.10,274.57 353.65,274.57 354.20,274.57 354.75,274.57 355.30,274.57 355.85,274.57 356.40,274.57 356.95,274.57 357.50,274.57 358.05,274.57 358.60,274.57 359.15,274.57 359.70,274.57 360.25,274.57 360.80,274.57 361.35,274.57 361.90,274.57 362.45,274.57 363.00,274.57 363.55,274.57 364.10,274.57 364.65,274.57 365.20,274.57 365.75,274.57 366.30,274.57 366.85,274.57 367.40,274.57 367.95,274.57 368.50,274.57 369.05,274.57 369.60,274.57 370.15,274.57 370.70,274.57 371.25,274.57 371.80,274.57 372.35,274.57 372.90,274.57 373.45,274.57 374.00,274.57 374.55,274.57" fill="none" stroke="#bcd7f2" stroke-width="0.7" stroke-linejoin="round" stroke-linecap="round"/>
<polyline points="209.55,299.55 210.10,299.33 210.65,299.09 211.20,298.83 211.75,298.55 212.30,298.25 212.85,297.92 213.40,297.57 213.95,297.20 214.50,296.80 215.05,296.36 215.60,295.90 216.15,295.41 216.70,294.88 217.25,294.32 217.80,293.73 218.35,293.09 218.90,292.42 219.45,291.71 220.00,290.95 220.55,290.15 221.10,289.31 221.65,288.42 222.20,287.48 222.75,286.49 223.30,285.46 223.85,284.37 224.40,283.24 224.95,282.05 225.50,280.80 226.05,279.51 226.60,278.16 227.15,276.76 227.70,275.30 228.25,273.79 228.80,272.22 229.35,270.60 229.90,268.93 230.45,267.21 231.00,265.44 231.55,263.62 232.10,261.75 232.65,259.84 233.20,257.88 233.75,255.88 234.30,253.85 234.85,251.78 235.40,249.68 235.95,247.54 236.50,245.39 237.05,243.21 237.60,241.01 238.15,238.81 238.70,236.59 239.25,234.37 239.80,232.14 240.35,229.93 240.90,227.72 241.45,225.53 242.00,223.37 242.55,221.23 243.10,219.12 243.65,217.04 244.20,215.02 244.75,213.04 245.30,211.11 245.85,209.24 246.40,207.44 246.95,205.71 247.50,204.06 248.05,202.48 248.60,200.99 249.15,199.59 249.70,198.28 250.25,197.07 250.80,195.96 251.35,194.96 251.90,194.06 252.45,193.28 253.00,192.61 253.55,192.06 254.10,191.62 254.65,191.31 255.20,191.11 255.75,191.03 256.30,191.08 256.85,191.24 257.40,191.53 257.95,191.94 258.50,192.46 259.05,193.10 259.60,193.86 260.15,194.72 260.70,195.70 261.25,196.78 261.80,197.97 262.35,199.25 262.90,200.63 263.45,202.10 264.00,203.65 264.55,205.29 265.10,207.00 265.65,208.79 266.20,210.64 266.75,212.55 267.30,214.52 267.85,216.53 268.40,218.59 268.95,220.70 269.50,222.83 270.05,224.99 270.60,227.17 271.15,229.38 271.70,231.59 272.25,233.81 272.80,236.03 273.35,238.25 273.90,240.46 274.45,242.66 275.00,244.85 275.55,247.01 276.10,249.15 276.65,251.26 277.20,253.33 277.75,255.38 278.30,257.39 278.85,259.35 279.40,261.28 279.95,263.16 280.50,264.99 281.05,266.77 281.60,268.51 282.15,270.19 282.70,271.82 283.25,273.40 283.80,274.92 284.35,276.40 284.90,277.81 285.45,279.18 286.00,280.49 286.55,281.74 287.10,282.94 287.65,284.09 288.20,285.19 288.75,286.24 289.30,287.24 289.85,288.19 290.40,289.09 290.95,289.94 291.50,290.75 292.05,291.52 292.60,292.24 293.15,292.93 293.70,293.57 294.25,294.18 294.80,294.75 295.35,295.28 295.90,295.78 296.45,296.25 297.00,296.69 297.55,297.10 298.10,297.48 298.65,297.84 299.20,298.17 299.75,298.48 300.30,298.76 300.85,299.03 301.40,299.27 301.95,299.50 302.50,299.71 303.05,299.90 303.60,300.08 304.15,300.24 304.70,300.39 305.25,300.53 305.80,300.65 306.35,300.77 306.90,300.88 307.45,300.97 308.00,301.06 308.55,301.14 309.10,301.21 309.65,301.28 310.20,301.34 310.75,301.39 311.30,301.44 311.85,301.49 312.40,301.53 312.95,301.57 313.50,301.60 314.05,301.63 314.60,301.65 315.15,301.68 315.70,301.70 316.25,301.72 316.80,301.74 317.35,301.75 317.90,301.76 318.45,301.78 319.00,301.79 319.55,301.80 320.10,301.81 320.65,301.81 321.20,301.82 321.75,301.83 322.30,301.83 322.85,301.84 323.40,301.84 323.95,301.84 324.50,301.85 325.05,301.85 325.60,301.85 326.15,301.86 326.70,301.86 327.25,301.86 327.80,301.86 328.35,301.86 328.90,301.86 329.45,301.86 330.00,301.86 330.55,301.87 331.10,301.87 331.65,301.87 332.20,301.87 332.75,301.87 333.30,301.87 333.85,301.87 334.40,301.87 334.95,301.87 335.50,301.87 336.05,301.87 336.60,301.87 337.15,301.87 337.70,301.87 338.25,301.87 338.80,301.87 339.35,301.87 339.90,301.87 340.45,301.87 341.00,301.87 341.55,301.87 342.10,301.87 342.65,301.87 343.20,301.87 343.75,301.87 344.30,301.87 344.85,301.87 345.40,301.87 345.95,301.87 346.50,301.87 347.05,301.87 347.60,301.87 348.15,301.87 348.70,301.87 349.25,301.87 349.80,301.87 350.35,301.87 350.90,301.87 351.45,301.87 352.00,301.87 352.55,301.87 353.10,301.87 353.65,301.87 354.20,301.87 354.75,301.87 355.30,301.87 355.85,301.87 356.40,301.87 356.95,301.87 357.50,301.87 358.05,301.87 358.60,301.87 359.15,301.87 359.70,301.87 360.25,301.87 360.80,301.87 361.35,301.87 361.90,301.87 362.45,301.87 363.00,301.87 363.55,301.87 364.10,301.87 364.65,301.87 365.20,301.87 365.75,301.87 366.30,301.87 366.85,301.87 367.40,301.87 367.95,301.87 368.50,301.87 369.05,301.87 369.60,301.87 370.15,301.87 370.70,301.87 371.25,301.87 371.80,301.87 372.35,301.87 372.90,301.87 373.45,301.87 374.00,301.87 374.55,301.87" fill="none" stroke="#bcd7f2" stroke-width="0.7" stroke-linejoin="round" stroke-linecap="round"/>
<polyline points="209.55,285.90 210.10,285.68 210.65,285.44 211.20,285.18 211.75,284.90 212.30,284.60 212.85,284.27 213.40,283.92 213.95,283.55 214.50,283.15 215.05,282.71 215.60,282.25 216.15,281.76 216.70,281.23 217.25,280.67 217.80,280.08 218.35,279.44 218.90,278.77 219.45,278.06 220.00,277.30 220.55,276.50 221.10,275.66 221.65,274.77 222.20,273.83 222.75,272.84 223.30,271.81 223.85,270.72 224.40,269.59 224.95,268.40 225.50,267.15 226.05,265.86 226.60,264.51 227.15,263.11 227.70,261.65 228.25,260.14 228.80,258.57 229.35,256.95 229.90,255.28 230.45,253.56 231.00,251.79 231.55,249.97 232.10,248.10 232.65,246.19 233.20,244.23 233.75,242.23 234.30,240.20 234.85,238.13 235.40,236.03 235.95,233.89 236.50,231.74 237.05,229.56 237.60,227.36 238.15,225.16 238.70,222.94 239.25,220.72 239.80,218.49 240.35,216.28 240.90,214.07 241.45,211.88 242.00,209.72 242.55,207.58 243.10,205.47 243.65,203.39 244.20,201.37 244.75,199.39 245.30,197.46 245.85,195.59 246.40,193.79 246.95,192.06 247.50,190.41 248.05,188.83 248.60,187.34 249.15,185.94 249.70,184.63 250.25,183.42 250.80,182.31 251.35,181.31 251.90,180.41 252.45,179.63 253.00,178.96 253.55,178.41 254.10,177.97 254.65,177.66 255.20,177.46 255.75,177.38 256.30,177.43 256.85,177.59 257.40,177.88 257.95,178.29 258.50,178.81 259.05,179.45 259.60,180.21 260.15,181.07 260.70,182.05 261.25,183.13 261.80,184.32 262.35,185.60 262.90,186.98 263.45,188.45 264.00,190.00 264.55,191.64 265.10,193.35 265.65,195.14 266.20,196.99 266.75,198.90 267.30,200.87 267.85,202.88 268.40,204.94 268.95,207.05 269.50,209.18 270.05,211.34 270.60,213.52 271.15,215.73 271.70,217.94 272.25,220.16 272.80,222.38 273.35,224.60 273.90,226.81 274.45,229.01 275.00,231.20 275.55,233.36 276.10,235.50 276.65,237.61 277.20,239.68 277.75,241.73 278.30,243.74 278.85,245.70 279.40,247.63 279.95,249.51 280.50,251.34 281.05,253.12 281.60,254.86 282.15,256.54 282.70,258.17 283.25,259.75 283.80,261.27 284.35,262.75 284.90,264.16 285.45,265.53 286.00,266.84 286.55,268.09 287.10,269.29 287.65,270.44 288.20,271.54 288.75,272.59 289.30,273.59 289.85,274.54 290.40,275.44 290.95,276.29 291.50,277.10 292.05,277.87 292.60,278.59 293.15,279.28 293.70,279.92 294.25,280.53 294.80,281.10 295.35,281.63 295.90,282.13 296.45,282.60 297.00,283.04 297.55,283.45 298.10,283.83 298.65,284.19 299.20,284.52 299.75,284.83 300.30,285.11 300.85,285.38 301.40,285.62 301.95,285.85 302.50,286.06 303.05,286.25 303.60,286.43 304.15,286.59 304.70,286.74 305.25,286.88 305.80,287.00 306.35,287.12 306.90,287.23 307.45,287.32 308.00,287.41 308.55,287.49 309.10,287.56 309.65,287.63 310.20,287.69 310.75,287.74 311.30,287.79 311.85,287.84 312.40,287.88 312.95,287.92 313.50,287.95 314.05,287.98 314.60,288.00 315.15,288.03 315.70,288.05 316.25,288.07 316.80,288.09 317.35,288.10 317.90,288.11 318.45,288.13 319.00,288.14 319.55,288.15 320.10,288.16 320.65,288.16 321.20,288.17 321.75,288.18 322.30,288.18 322.85,288.19 323.40,288.19 323.95,288.19 324.50,288.20 325.05,288.20 325.60,288.20 326.15,288.21 326.70,288.21 327.25,288.21 327.80,288.21 328.35,288.21 328.90,288.21 329.45,288.21 330.00,288.21 330.55,288.22 331.10,288.22 331.65,288.22 332.20,288.22 332.75,288.22 333.30,288.22 333.85,288.22 334.40,288.22 334.95,288.22 335.50,288.22 336.05,288.22 336.60,288.22 337.15,288.22 337.70,288.22 338.25,288.22 338.80,288.22 339.35,288.22 339.90,288.22 340.45,288.22 341.00,288.22 341.55,288.22 342.10,288.22 342.65,288.22 343.20,288.22 343.75,288.22 344.30,288.22 344.85,288.22 345.40,288.22 345.95,288.22 346.50,288.22 347.05,288.22 347.60,288.22 348.15,288.22 348.70,288.22 349.25,288.22 349.80,288.22 350.35,288.22 350.90,288.22 351.45,288.22 352.00,288.22 352.55,288.22 353.10,288.22 353.65,288.22 354.20,288.22 354.75,288.22 355.30,288.22 355.85,288.22 356.40,288.22 356.95,288.22 357.50,288.22 358.05,288.22 358.60,288.22 359.15,288.22 359.70,288.22 360.25,288.22 360.80,288.22 361.35,288.22 361.90,288.22 362.45,288.22 363.00,288.22 363.55,288.22 364.10,288.22 364.65,288.22 365.20,288.22 365.75,288.22 366.30,288.22 366.85,288.22 367.40,288.22 367.95,288.22 368.50,288.22 369.05,288.22 369.60,288.22 370.15,288.22 370.70,288.22 371.25,288.22 371.80,288.22 372.35,288.22 372.90,288.22 373.45,288.22 374.00,288.22 374.55,288.22" fill="none" stroke="#2a7cc9" stroke-width="1.1" stroke-linejoin="round" stroke-linecap="round"/>
<rect x="222.35" y="272.55" width="1.5" height="1.5" fill="#111"/>
<rect x="223.95" y="260.05" width="1.5" height="1.5" fill="#111"/>
<rect x="225.05" y="259.45" width="1.5" height="1.5" fill="#111"/>
<rect x="227.15" y="261.35" width="1.5" height="1.5" fill="#111"/>
<rect x="229.05" y="257.85" width="1.5" height="1.5" fill="#111"/>
<rect x="231.05" y="256.85" width="1.5" height="1.5" fill="#111"/>
<rect x="232.25" y="255.75" width="1.5" height="1.5" fill="#111"/>
<rect x="233.85" y="246.05" width="1.5" height="1.5" fill="#111"/>
<rect x="235.55" y="238.75" width="1.5" height="1.5" fill="#111"/>
<rect x="236.75" y="237.85" width="1.5" height="1.5" fill="#111"/>
<rect x="238.15" y="225.55" width="1.5" height="1.5" fill="#111"/>
<rect x="239.15" y="223.85" width="1.5" height="1.5" fill="#111"/>
<rect x="240.85" y="202.25" width="1.5" height="1.5" fill="#111"/>
<rect x="241.65" y="200.45" width="1.5" height="1.5" fill="#111"/>
<rect x="242.15" y="199.05" width="1.5" height="1.5" fill="#111"/>
<rect x="243.95" y="187.15" width="1.5" height="1.5" fill="#111"/>
<rect x="244.95" y="187.65" width="1.5" height="1.5" fill="#111"/>
<rect x="246.25" y="177.15" width="1.5" height="1.5" fill="#111"/>
<rect x="248.15" y="182.25" width="1.5" height="1.5" fill="#111"/>
<rect x="249.45" y="181.65" width="1.5" height="1.5" fill="#111"/>
<rect x="250.75" y="176.45" width="1.5" height="1.5" fill="#111"/>
<rect x="252.05" y="184.85" width="1.5" height="1.5" fill="#111"/>
<rect x="253.35" y="184.45" width="1.5" height="1.5" fill="#111"/>
<rect x="255.95" y="184.25" width="1.5" height="1.5" fill="#111"/>
<rect x="257.25" y="183.55" width="1.5" height="1.5" fill="#111"/>
<rect x="258.85" y="177.15" width="1.5" height="1.5" fill="#111"/>
<rect x="260.15" y="177.35" width="1.5" height="1.5" fill="#111"/>
<rect x="261.75" y="199.25" width="1.5" height="1.5" fill="#111"/>
<rect x="263.05" y="194.95" width="1.5" height="1.5" fill="#111"/>
<rect x="264.55" y="192.75" width="1.5" height="1.5" fill="#111"/>
<rect x="266.95" y="198.55" width="1.5" height="1.5" fill="#111"/>
<rect x="269.05" y="209.85" width="1.5" height="1.5" fill="#111"/>
<rect x="270.75" y="211.15" width="1.5" height="1.5" fill="#111"/>
<rect x="272.45" y="210.15" width="1.5" height="1.5" fill="#111"/>
<rect x="254.55" y="196.35" width="1.7" height="1.7" fill="#f00"/>
<rect x="274.05" y="206.55" width="1.7" height="1.7" fill="#f00"/>
<rect x="275.75" y="212.75" width="1.7" height="1.7" fill="#f00"/>
<rect x="277.15" y="213.15" width="1.7" height="1.7" fill="#f00"/>
<rect x="278.05" y="215.45" width="1.7" height="1.7" fill="#f00"/>
<rect x="278.65" y="214.75" width="1.7" height="1.7" fill="#f00"/>
<rect x="280.85" y="213.15" width="1.7" height="1.7" fill="#f00"/>
<rect x="279.75" y="223.85" width="1.7" height="1.7" fill="#f00"/>
<rect x="282.15" y="224.35" width="1.7" height="1.7" fill="#f00"/>
<rect x="284.15" y="228.25" width="1.7" height="1.7" fill="#f00"/>
<rect x="285.05" y="223.85" width="1.7" height="1.7" fill="#f00"/>
<rect x="287.05" y="225.95" width="1.7" height="1.7" fill="#f00"/>
<rect x="288.65" y="227.55" width="1.7" height="1.7" fill="#f00"/>
<rect x="289.85" y="228.65" width="1.7" height="1.7" fill="#f00"/>
<rect x="291.05" y="231.95" width="1.7" height="1.7" fill="#f00"/>
<rect x="292.15" y="229.85" width="1.7" height="1.7" fill="#f00"/>
<rect x="293.75" y="235.95" width="1.7" height="1.7" fill="#f00"/>
<rect x="295.05" y="228.65" width="1.7" height="1.7" fill="#f00"/>
<rect x="296.65" y="227.05" width="1.7" height="1.7" fill="#f00"/>
<rect x="297.95" y="232.35" width="1.7" height="1.7" fill="#f00"/>
<rect x="299.05" y="236.25" width="1.7" height="1.7" fill="#f00"/>
<rect x="300.15" y="235.55" width="1.7" height="1.7" fill="#f00"/>
<rect x="302.25" y="239.95" width="1.7" height="1.7" fill="#f00"/>
<rect x="303.85" y="238.85" width="1.7" height="1.7" fill="#f00"/>
<rect x="304.65" y="228.85" width="1.7" height="1.7" fill="#f00"/>
<rect x="306.35" y="236.75" width="1.7" height="1.7" fill="#f00"/>
<rect x="307.75" y="235.95" width="1.7" height="1.7" fill="#f00"/>
<rect x="309.05" y="235.95" width="1.7" height="1.7" fill="#f00"/>
<rect x="309.95" y="248.65" width="1.7" height="1.7" fill="#f00"/>
<rect x="311.55" y="234.25" width="1.7" height="1.7" fill="#f00"/>
<rect x="312.85" y="239.85" width="1.7" height="1.7" fill="#f00"/>
<rect x="314.15" y="243.45" width="1.7" height="1.7" fill="#f00"/>
<rect x="315.75" y="246.05" width="1.7" height="1.7" fill="#f00"/>
<rect x="317.25" y="247.35" width="1.7" height="1.7" fill="#f00"/>
<rect x="318.35" y="247.05" width="1.7" height="1.7" fill="#f00"/>
<rect x="319.85" y="244.75" width="1.7" height="1.7" fill="#f00"/>
<rect x="321.15" y="249.65" width="1.7" height="1.7" fill="#f00"/>
<rect x="322.45" y="249.25" width="1.7" height="1.7" fill="#f00"/>
<rect x="324.15" y="251.15" width="1.7" height="1.7" fill="#f00"/>
<rect x="325.35" y="254.75" width="1.7" height="1.7" fill="#f00"/>
<rect x="326.65" y="255.35" width="1.7" height="1.7" fill="#f00"/>
<rect x="328.35" y="256.35" width="1.7" height="1.7" fill="#f00"/>
<rect x="329.85" y="257.45" width="1.7" height="1.7" fill="#f00"/>
<rect x="330.95" y="257.45" width="1.7" height="1.7" fill="#f00"/>
<rect x="332.45" y="261.45" width="1.7" height="1.7" fill="#f00"/>
<rect x="333.65" y="255.15" width="1.7" height="1.7" fill="#f00"/>
<rect x="335.35" y="261.95" width="1.7" height="1.7" fill="#f00"/>
<rect x="336.75" y="261.05" width="1.7" height="1.7" fill="#f00"/>
<rect x="338.15" y="260.75" width="1.7" height="1.7" fill="#f00"/>
<rect x="339.25" y="268.35" width="1.7" height="1.7" fill="#f00"/>
<rect x="340.35" y="260.75" width="1.7" height="1.7" fill="#f00"/>
<rect x="342.05" y="266.85" width="1.7" height="1.7" fill="#f00"/>
<rect x="343.25" y="261.25" width="1.7" height="1.7" fill="#f00"/>
<rect x="344.85" y="265.25" width="1.7" height="1.7" fill="#f00"/>
<rect x="346.05" y="263.05" width="1.7" height="1.7" fill="#f00"/>
<rect x="347.15" y="263.85" width="1.7" height="1.7" fill="#f00"/>
<rect x="348.25" y="264.45" width="1.7" height="1.7" fill="#f00"/>
<rect x="349.15" y="264.95" width="1.7" height="1.7" fill="#f00"/>
<rect x="350.55" y="261.55" width="1.7" height="1.7" fill="#f00"/>
<rect x="351.65" y="267.75" width="1.7" height="1.7" fill="#f00"/>
<rect x="352.75" y="260.45" width="1.7" height="1.7" fill="#f00"/>
<rect x="354.75" y="264.95" width="1.7" height="1.7" fill="#f00"/>
<rect x="356.15" y="265.55" width="1.7" height="1.7" fill="#f00"/>
<rect x="357.55" y="266.65" width="1.7" height="1.7" fill="#f00"/>
<rect x="358.65" y="273.15" width="1.7" height="1.7" fill="#f00"/>
<rect x="359.75" y="269.45" width="1.7" height="1.7" fill="#f00"/>
</g>
<rect x="216.60" y="162.30" width="150.10" height="116.50" fill="none" stroke="#bcbcbc" stroke-width="0.7"/>
<line x1="223.30" y1="278.80" x2="223.30" y2="277.50" stroke="#bcbcbc" stroke-width="0.6"/>
<line x1="223.30" y1="162.30" x2="223.30" y2="163.60" stroke="#bcbcbc" stroke-width="0.6"/>
<line x1="250.80" y1="278.80" x2="250.80" y2="277.50" stroke="#bcbcbc" stroke-width="0.6"/>
<line x1="250.80" y1="162.30" x2="250.80" y2="163.60" stroke="#bcbcbc" stroke-width="0.6"/>
<line x1="278.30" y1="278.80" x2="278.30" y2="277.50" stroke="#bcbcbc" stroke-width="0.6"/>
<line x1="278.30" y1="162.30" x2="278.30" y2="163.60" stroke="#bcbcbc" stroke-width="0.6"/>
<line x1="305.80" y1="278.80" x2="305.80" y2="277.50" stroke="#bcbcbc" stroke-width="0.6"/>
<line x1="305.80" y1="162.30" x2="305.80" y2="163.60" stroke="#bcbcbc" stroke-width="0.6"/>
<line x1="333.30" y1="278.80" x2="333.30" y2="277.50" stroke="#bcbcbc" stroke-width="0.6"/>
<line x1="333.30" y1="162.30" x2="333.30" y2="163.60" stroke="#bcbcbc" stroke-width="0.6"/>
<line x1="360.80" y1="278.80" x2="360.80" y2="277.50" stroke="#bcbcbc" stroke-width="0.6"/>
<line x1="360.80" y1="162.30" x2="360.80" y2="163.60" stroke="#bcbcbc" stroke-width="0.6"/>
<line x1="216.60" y1="277.30" x2="217.90" y2="277.30" stroke="#bcbcbc" stroke-width="0.6"/>
<line x1="366.70" y1="277.30" x2="365.40" y2="277.30" stroke="#bcbcbc" stroke-width="0.6"/>
<line x1="216.60" y1="266.38" x2="217.90" y2="266.38" stroke="#bcbcbc" stroke-width="0.6"/>
<line x1="366.70" y1="266.38" x2="365.40" y2="266.38" stroke="#bcbcbc" stroke-width="0.6"/>
<line x1="216.60" y1="255.46" x2="217.90" y2="255.46" stroke="#bcbcbc" stroke-width="0.6"/>
<line x1="366.70" y1="255.46" x2="365.40" y2="255.46" stroke="#bcbcbc" stroke-width="0.6"/>
<line x1="216.60" y1="244.54" x2="217.90" y2="244.54" stroke="#bcbcbc" stroke-width="0.6"/>
<line x1="366.70" y1="244.54" x2="365.40" y2="244.54" stroke="#bcbcbc" stroke-width="0.6"/>
<line x1="216.60" y1="233.62" x2="217.90" y2="233.62" stroke="#bcbcbc" stroke-width="0.6"/>
<line x1="366.70" y1="233.62" x2="365.40" y2="233.62" stroke="#bcbcbc" stroke-width="0.6"/>
<line x1="216.60" y1="222.70" x2="217.90" y2="222.70" stroke="#bcbcbc" stroke-width="0.6"/>
<line x1="366.70" y1="222.70" x2="365.40" y2="222.70" stroke="#bcbcbc" stroke-width="0.6"/>
<line x1="216.60" y1="211.78" x2="217.90" y2="211.78" stroke="#bcbcbc" stroke-width="0.6"/>
<line x1="366.70" y1="211.78" x2="365.40" y2="211.78" stroke="#bcbcbc" stroke-width="0.6"/>
<line x1="216.60" y1="200.86" x2="217.90" y2="200.86" stroke="#bcbcbc" stroke-width="0.6"/>
<line x1="366.70" y1="200.86" x2="365.40" y2="200.86" stroke="#bcbcbc" stroke-width="0.6"/>
<line x1="216.60" y1="189.94" x2="217.90" y2="189.94" stroke="#bcbcbc" stroke-width="0.6"/>
<line x1="366.70" y1="189.94" x2="365.40" y2="189.94" stroke="#bcbcbc" stroke-width="0.6"/>
<line x1="216.60" y1="179.02" x2="217.90" y2="179.02" stroke="#bcbcbc" stroke-width="0.6"/>
<line x1="366.70" y1="179.02" x2="365.40" y2="179.02" stroke="#bcbcbc" stroke-width="0.6"/>
<line x1="216.60" y1="168.10" x2="217.90" y2="168.10" stroke="#bcbcbc" stroke-width="0.6"/>
<line x1="366.70" y1="168.10" x2="365.40" y2="168.10" stroke="#bcbcbc" stroke-width="0.6"/>
<text x="223.30" y="286.60" text-anchor="middle" class="t">40</text>
<text x="250.80" y="286.60" text-anchor="middle" class="t">60</text>
<text x="278.30" y="286.60" text-anchor="middle" class="t">80</text>
<text x="305.80" y="286.60" text-anchor="middle" class="t">100</text>
<text x="333.30" y="286.60" text-anchor="middle" class="t">120</text>
<text x="360.80" y="286.60" text-anchor="middle" class="t">140</text>
<text x="215.00" y="279.70" text-anchor="end" class="t">0.002</text>
<text x="215.00" y="268.78" text-anchor="end" class="t">0.004</text>
<text x="215.00" y="257.86" text-anchor="end" class="t">0.006</text>
<text x="215.00" y="246.94" text-anchor="end" class="t">0.008</text>
<text x="215.00" y="236.02" text-anchor="end" class="t">0.01</text>
<text x="215.00" y="225.10" text-anchor="end" class="t">0.012</text>
<text x="215.00" y="214.18" text-anchor="end" class="t">0.014</text>
<text x="215.00" y="203.26" text-anchor="end" class="t">0.016</text>
<text x="215.00" y="192.34" text-anchor="end" class="t">0.018</text>
<text x="215.00" y="181.42" text-anchor="end" class="t">0.02</text>
<text x="215.00" y="170.50" text-anchor="end" class="t">0.022</text>
<text x="292.7" y="292.7" text-anchor="middle" class="t">Pixel Values</text>
<text transform="translate(200.0,220.5) rotate(-90)" text-anchor="middle" class="t">Ratio</text>
<rect x="292.2" y="167.0" width="71.20" height="28.60" fill="#fff" stroke="#8a8a8a" stroke-width="0.6"/>
<rect x="297.90" y="170.20" width="1.6" height="1.6" fill="#111"/>
<text x="305.1" y="172.80" class="t">Experimental data (in)</text>
<rect x="297.80" y="177.30" width="1.8" height="1.8" fill="#f00"/>
<text x="305.1" y="180.00" class="t">Experimental data (out)</text>
<line x1="294.1" y1="184.50" x2="303.8" y2="184.50" stroke="#2a7cc9" stroke-width="0.95"/>
<text x="305.1" y="186.30" class="t">Analycial value</text>
<line x1="294.1" y1="191.10" x2="303.8" y2="191.10" stroke="#bcd7f2" stroke-width="0.7"/>
<text x="305.1" y="192.90" class="t">Range of fit</text>
<line x1="404.20" y1="164.60" x2="404.20" y2="277.20" stroke="#eeeeee" stroke-width="0.6"/>
<line x1="431.04" y1="164.60" x2="431.04" y2="277.20" stroke="#eeeeee" stroke-width="0.6"/>
<line x1="457.88" y1="164.60" x2="457.88" y2="277.20" stroke="#eeeeee" stroke-width="0.6"/>
<line x1="484.72" y1="164.60" x2="484.72" y2="277.20" stroke="#eeeeee" stroke-width="0.6"/>
<line x1="511.56" y1="164.60" x2="511.56" y2="277.20" stroke="#eeeeee" stroke-width="0.6"/>
<line x1="538.40" y1="164.60" x2="538.40" y2="277.20" stroke="#eeeeee" stroke-width="0.6"/>
<line x1="398.80" y1="266.30" x2="544.00" y2="266.30" stroke="#eeeeee" stroke-width="0.6"/>
<line x1="398.80" y1="254.75" x2="544.00" y2="254.75" stroke="#eeeeee" stroke-width="0.6"/>
<line x1="398.80" y1="243.20" x2="544.00" y2="243.20" stroke="#eeeeee" stroke-width="0.6"/>
<line x1="398.80" y1="231.65" x2="544.00" y2="231.65" stroke="#eeeeee" stroke-width="0.6"/>
<line x1="398.80" y1="220.10" x2="544.00" y2="220.10" stroke="#eeeeee" stroke-width="0.6"/>
<line x1="398.80" y1="208.55" x2="544.00" y2="208.55" stroke="#eeeeee" stroke-width="0.6"/>
<line x1="398.80" y1="197.00" x2="544.00" y2="197.00" stroke="#eeeeee" stroke-width="0.6"/>
<line x1="398.80" y1="185.45" x2="544.00" y2="185.45" stroke="#eeeeee" stroke-width="0.6"/>
<line x1="398.80" y1="173.90" x2="544.00" y2="173.90" stroke="#eeeeee" stroke-width="0.6"/>
<clipPath id="c5"><rect x="398.80" y="164.60" width="145.20" height="112.60"/></clipPath>
<g clip-path="url(#c5)">
<polyline points="390.78,267.91 391.32,267.59 391.85,267.24 392.39,266.88 392.93,266.49 393.46,266.08 394.00,265.64 394.54,265.18 395.07,264.69 395.61,264.17 396.15,263.62 396.68,263.04 397.22,262.43 397.76,261.79 398.30,261.12 398.83,260.41 399.37,259.66 399.91,258.88 400.44,258.07 400.98,257.21 401.52,256.32 402.05,255.38 402.59,254.41 403.13,253.40 403.66,252.34 404.20,251.24 404.74,250.10 405.27,248.92 405.81,247.70 406.35,246.43 406.88,245.12 407.42,243.77 407.96,242.38 408.49,240.94 409.03,239.46 409.57,237.94 410.10,236.39 410.64,234.79 411.18,233.15 411.72,231.48 412.25,229.77 412.79,228.03 413.33,226.25 413.86,224.45 414.40,222.61 414.94,220.75 415.47,218.87 416.01,216.96 416.55,215.04 417.08,213.09 417.62,211.14 418.16,209.17 418.69,207.20 419.23,205.22 419.77,203.23 420.30,201.26 420.84,199.28 421.38,197.32 421.91,195.37 422.45,193.43 422.99,191.52 423.52,189.63 424.06,187.77 424.60,185.94 425.14,184.15 425.67,182.39 426.21,180.68 426.75,179.02 427.28,177.41 427.82,175.85 428.36,174.35 428.89,172.91 429.43,171.54 429.97,170.24 430.50,169.01 431.04,167.85 431.58,166.77 432.11,165.77 432.65,164.85 433.19,164.02 433.72,163.28 434.26,162.62 434.80,162.06 435.33,161.58 435.87,161.20 436.41,160.92 436.94,160.73 437.48,160.63 438.02,160.63 438.56,160.73 439.09,160.92 439.63,161.20 440.17,161.58 440.70,162.06 441.24,162.62 441.78,163.28 442.31,164.02 442.85,164.85 443.39,165.77 443.92,166.77 444.46,167.85 445.00,169.01 445.53,170.24 446.07,171.54 446.61,172.91 447.14,174.35 447.68,175.85 448.22,177.41 448.75,179.02 449.29,180.68 449.83,182.39 450.36,184.15 450.90,185.94 451.44,187.77 451.98,189.63 452.51,191.52 453.05,193.43 453.59,195.37 454.12,197.32 454.66,199.28 455.20,201.26 455.73,203.23 456.27,205.22 456.81,207.20 457.34,209.17 457.88,211.14 458.42,213.09 458.95,215.04 459.49,216.96 460.03,218.87 460.56,220.75 461.10,222.61 461.64,224.45 462.17,226.25 462.71,228.03 463.25,229.77 463.78,231.48 464.32,233.15 464.86,234.79 465.40,236.39 465.93,237.94 466.47,239.46 467.01,240.94 467.54,242.38 468.08,243.77 468.62,245.12 469.15,246.43 469.69,247.70 470.23,248.92 470.76,250.10 471.30,251.24 471.84,252.34 472.37,253.40 472.91,254.41 473.45,255.38 473.98,256.32 474.52,257.21 475.06,258.07 475.59,258.88 476.13,259.66 476.67,260.41 477.20,261.12 477.74,261.79 478.28,262.43 478.82,263.04 479.35,263.62 479.89,264.17 480.43,264.69 480.96,265.18 481.50,265.64 482.04,266.08 482.57,266.49 483.11,266.88 483.65,267.24 484.18,267.59 484.72,267.91 485.26,268.21 485.79,268.50 486.33,268.76 486.87,269.01 487.40,269.25 487.94,269.46 488.48,269.67 489.01,269.85 489.55,270.03 490.09,270.19 490.62,270.35 491.16,270.49 491.70,270.62 492.24,270.74 492.77,270.85 493.31,270.95 493.85,271.05 494.38,271.14 494.92,271.22 495.46,271.29 495.99,271.36 496.53,271.43 497.07,271.49 497.60,271.54 498.14,271.59 498.68,271.63 499.21,271.67 499.75,271.71 500.29,271.75 500.82,271.78 501.36,271.81 501.90,271.83 502.43,271.86 502.97,271.88 503.51,271.90 504.04,271.92 504.58,271.93 505.12,271.95 505.66,271.96 506.19,271.97 506.73,271.98 507.27,271.99 507.80,272.00 508.34,272.01 508.88,272.02 509.41,272.02 509.95,272.03 510.49,272.03 511.02,272.04 511.56,272.04 512.10,272.05 512.63,272.05 513.17,272.05 513.71,272.05 514.24,272.06 514.78,272.06 515.32,272.06 515.85,272.06 516.39,272.06 516.93,272.07 517.46,272.07 518.00,272.07 518.54,272.07 519.08,272.07 519.61,272.07 520.15,272.07 520.69,272.07 521.22,272.07 521.76,272.07 522.30,272.07 522.83,272.07 523.37,272.07 523.91,272.07 524.44,272.07 524.98,272.07 525.52,272.07 526.05,272.07 526.59,272.07 527.13,272.07 527.66,272.07 528.20,272.07 528.74,272.07 529.27,272.07 529.81,272.07 530.35,272.07 530.88,272.07 531.42,272.07 531.96,272.07 532.50,272.07 533.03,272.07 533.57,272.07 534.11,272.07 534.64,272.07 535.18,272.07 535.72,272.07 536.25,272.07 536.79,272.07 537.33,272.07 537.86,272.07 538.40,272.07 538.94,272.07 539.47,272.07 540.01,272.07 540.55,272.07 541.08,272.07 541.62,272.07 542.16,272.07 542.69,272.07 543.23,272.07 543.77,272.07 544.30,272.07 544.84,272.07 545.38,272.07 545.92,272.07 546.45,272.07 546.99,272.07 547.53,272.07 548.06,272.07 548.60,272.07 549.14,272.07 549.67,272.07 550.21,272.07 550.75,272.07 551.28,272.07 551.82,272.07" fill="none" stroke="#bcd7f2" stroke-width="0.7" stroke-linejoin="round" stroke-linecap="round"/>
<polyline points="390.78,302.56 391.32,302.24 391.85,301.89 392.39,301.53 392.93,301.14 393.46,300.73 394.00,300.29 394.54,299.83 395.07,299.34 395.61,298.82 396.15,298.27 396.68,297.69 397.22,297.08 397.76,296.44 398.30,295.77 398.83,295.06 399.37,294.31 399.91,293.53 400.44,292.72 400.98,291.86 401.52,290.97 402.05,290.03 402.59,289.06 403.13,288.05 403.66,286.99 404.20,285.89 404.74,284.75 405.27,283.57 405.81,282.35 406.35,281.08 406.88,279.77 407.42,278.42 407.96,277.03 408.49,275.59 409.03,274.11 409.57,272.59 410.10,271.04 410.64,269.44 411.18,267.80 411.72,266.13 412.25,264.42 412.79,262.68 413.33,260.90 413.86,259.10 414.40,257.26 414.94,255.40 415.47,253.52 416.01,251.61 416.55,249.69 417.08,247.74 417.62,245.79 418.16,243.82 418.69,241.85 419.23,239.87 419.77,237.88 420.30,235.91 420.84,233.93 421.38,231.97 421.91,230.02 422.45,228.08 422.99,226.17 423.52,224.28 424.06,222.42 424.60,220.59 425.14,218.80 425.67,217.04 426.21,215.33 426.75,213.67 427.28,212.06 427.82,210.50 428.36,209.00 428.89,207.56 429.43,206.19 429.97,204.89 430.50,203.66 431.04,202.50 431.58,201.42 432.11,200.42 432.65,199.50 433.19,198.67 433.72,197.93 434.26,197.27 434.80,196.71 435.33,196.23 435.87,195.85 436.41,195.57 436.94,195.38 437.48,195.28 438.02,195.28 438.56,195.38 439.09,195.57 439.63,195.85 440.17,196.23 440.70,196.71 441.24,197.27 441.78,197.93 442.31,198.67 442.85,199.50 443.39,200.42 443.92,201.42 444.46,202.50 445.00,203.66 445.53,204.89 446.07,206.19 446.61,207.56 447.14,209.00 447.68,210.50 448.22,212.06 448.75,213.67 449.29,215.33 449.83,217.04 450.36,218.80 450.90,220.59 451.44,222.42 451.98,224.28 452.51,226.17 453.05,228.08 453.59,230.02 454.12,231.97 454.66,233.93 455.20,235.91 455.73,237.88 456.27,239.87 456.81,241.85 457.34,243.82 457.88,245.79 458.42,247.74 458.95,249.69 459.49,251.61 460.03,253.52 460.56,255.40 461.10,257.26 461.64,259.10 462.17,260.90 462.71,262.68 463.25,264.42 463.78,266.13 464.32,267.80 464.86,269.44 465.40,271.04 465.93,272.59 466.47,274.11 467.01,275.59 467.54,277.03 468.08,278.42 468.62,279.77 469.15,281.08 469.69,282.35 470.23,283.57 470.76,284.75 471.30,285.89 471.84,286.99 472.37,288.05 472.91,289.06 473.45,290.03 473.98,290.97 474.52,291.86 475.06,292.72 475.59,293.53 476.13,294.31 476.67,295.06 477.20,295.77 477.74,296.44 478.28,297.08 478.82,297.69 479.35,298.27 479.89,298.82 480.43,299.34 480.96,299.83 481.50,300.29 482.04,300.73 482.57,301.14 483.11,301.53 483.65,301.89 484.18,302.24 484.72,302.56 485.26,302.86 485.79,303.15 486.33,303.41 486.87,303.66 487.40,303.90 487.94,304.11 488.48,304.32 489.01,304.50 489.55,304.68 490.09,304.84 490.62,305.00 491.16,305.14 491.70,305.27 492.24,305.39 492.77,305.50 493.31,305.60 493.85,305.70 494.38,305.79 494.92,305.87 495.46,305.94 495.99,306.01 496.53,306.08 497.07,306.14 497.60,306.19 498.14,306.24 498.68,306.28 499.21,306.32 499.75,306.36 500.29,306.40 500.82,306.43 501.36,306.46 501.90,306.48 502.43,306.51 502.97,306.53 503.51,306.55 504.04,306.57 504.58,306.58 505.12,306.60 505.66,306.61 506.19,306.62 506.73,306.63 507.27,306.64 507.80,306.65 508.34,306.66 508.88,306.67 509.41,306.67 509.95,306.68 510.49,306.68 511.02,306.69 511.56,306.69 512.10,306.70 512.63,306.70 513.17,306.70 513.71,306.70 514.24,306.71 514.78,306.71 515.32,306.71 515.85,306.71 516.39,306.71 516.93,306.72 517.46,306.72 518.00,306.72 518.54,306.72 519.08,306.72 519.61,306.72 520.15,306.72 520.69,306.72 521.22,306.72 521.76,306.72 522.30,306.72 522.83,306.72 523.37,306.72 523.91,306.72 524.44,306.72 524.98,306.72 525.52,306.72 526.05,306.72 526.59,306.72 527.13,306.72 527.66,306.72 528.20,306.72 528.74,306.72 529.27,306.72 529.81,306.72 530.35,306.72 530.88,306.72 531.42,306.72 531.96,306.72 532.50,306.72 533.03,306.72 533.57,306.72 534.11,306.72 534.64,306.72 535.18,306.72 535.72,306.72 536.25,306.72 536.79,306.72 537.33,306.72 537.86,306.72 538.40,306.72 538.94,306.72 539.47,306.72 540.01,306.72 540.55,306.72 541.08,306.72 541.62,306.72 542.16,306.72 542.69,306.72 543.23,306.72 543.77,306.72 544.30,306.72 544.84,306.72 545.38,306.72 545.92,306.72 546.45,306.72 546.99,306.72 547.53,306.72 548.06,306.72 548.60,306.72 549.14,306.72 549.67,306.72 550.21,306.72 550.75,306.72 551.28,306.72 551.82,306.72" fill="none" stroke="#bcd7f2" stroke-width="0.7" stroke-linejoin="round" stroke-linecap="round"/>
<polyline points="390.78,285.24 391.32,284.91 391.85,284.57 392.39,284.20 392.93,283.82 393.46,283.40 394.00,282.97 394.54,282.50 395.07,282.01 395.61,281.49 396.15,280.94 396.68,280.37 397.22,279.76 397.76,279.12 398.30,278.44 398.83,277.73 399.37,276.99 399.91,276.21 400.44,275.39 400.98,274.54 401.52,273.64 402.05,272.71 402.59,271.74 403.13,270.72 403.66,269.67 404.20,268.57 404.74,267.43 405.27,266.25 405.81,265.02 406.35,263.76 406.88,262.45 407.42,261.10 407.96,259.70 408.49,258.27 409.03,256.79 409.57,255.27 410.10,253.71 410.64,252.11 411.18,250.48 411.72,248.80 412.25,247.10 412.79,245.35 413.33,243.58 413.86,241.77 414.40,239.94 414.94,238.08 415.47,236.19 416.01,234.29 416.55,232.36 417.08,230.42 417.62,228.46 418.16,226.50 418.69,224.52 419.23,222.54 419.77,220.56 420.30,218.58 420.84,216.61 421.38,214.64 421.91,212.69 422.45,210.76 422.99,208.85 423.52,206.96 424.06,205.09 424.60,203.26 425.14,201.47 425.67,199.72 426.21,198.01 426.75,196.34 427.28,194.73 427.82,193.17 428.36,191.68 428.89,190.24 429.43,188.87 429.97,187.56 430.50,186.33 431.04,185.17 431.58,184.10 432.11,183.10 432.65,182.18 433.19,181.35 433.72,180.60 434.26,179.95 434.80,179.38 435.33,178.91 435.87,178.53 436.41,178.24 436.94,178.05 437.48,177.95 438.02,177.95 438.56,178.05 439.09,178.24 439.63,178.53 440.17,178.91 440.70,179.38 441.24,179.95 441.78,180.60 442.31,181.35 442.85,182.18 443.39,183.10 443.92,184.10 444.46,185.17 445.00,186.33 445.53,187.56 446.07,188.87 446.61,190.24 447.14,191.68 447.68,193.17 448.22,194.73 448.75,196.34 449.29,198.01 449.83,199.72 450.36,201.47 450.90,203.26 451.44,205.09 451.98,206.96 452.51,208.85 453.05,210.76 453.59,212.69 454.12,214.64 454.66,216.61 455.20,218.58 455.73,220.56 456.27,222.54 456.81,224.52 457.34,226.50 457.88,228.46 458.42,230.42 458.95,232.36 459.49,234.29 460.03,236.19 460.56,238.08 461.10,239.94 461.64,241.77 462.17,243.58 462.71,245.35 463.25,247.10 463.78,248.80 464.32,250.48 464.86,252.11 465.40,253.71 465.93,255.27 466.47,256.79 467.01,258.27 467.54,259.70 468.08,261.10 468.62,262.45 469.15,263.76 469.69,265.02 470.23,266.25 470.76,267.43 471.30,268.57 471.84,269.67 472.37,270.72 472.91,271.74 473.45,272.71 473.98,273.64 474.52,274.54 475.06,275.39 475.59,276.21 476.13,276.99 476.67,277.73 477.20,278.44 477.74,279.12 478.28,279.76 478.82,280.37 479.35,280.94 479.89,281.49 480.43,282.01 480.96,282.50 481.50,282.97 482.04,283.40 482.57,283.82 483.11,284.20 483.65,284.57 484.18,284.91 484.72,285.24 485.26,285.54 485.79,285.82 486.33,286.09 486.87,286.34 487.40,286.57 487.94,286.79 488.48,286.99 489.01,287.18 489.55,287.36 490.09,287.52 490.62,287.67 491.16,287.81 491.70,287.94 492.24,288.06 492.77,288.18 493.31,288.28 493.85,288.37 494.38,288.46 494.92,288.54 495.46,288.62 495.99,288.69 496.53,288.75 497.07,288.81 497.60,288.86 498.14,288.91 498.68,288.96 499.21,289.00 499.75,289.04 500.29,289.07 500.82,289.10 501.36,289.13 501.90,289.16 502.43,289.18 502.97,289.20 503.51,289.22 504.04,289.24 504.58,289.26 505.12,289.27 505.66,289.28 506.19,289.30 506.73,289.31 507.27,289.32 507.80,289.33 508.34,289.33 508.88,289.34 509.41,289.35 509.95,289.35 510.49,289.36 511.02,289.36 511.56,289.37 512.10,289.37 512.63,289.37 513.17,289.38 513.71,289.38 514.24,289.38 514.78,289.38 515.32,289.39 515.85,289.39 516.39,289.39 516.93,289.39 517.46,289.39 518.00,289.39 518.54,289.39 519.08,289.39 519.61,289.39 520.15,289.40 520.69,289.40 521.22,289.40 521.76,289.40 522.30,289.40 522.83,289.40 523.37,289.40 523.91,289.40 524.44,289.40 524.98,289.40 525.52,289.40 526.05,289.40 526.59,289.40 527.13,289.40 527.66,289.40 528.20,289.40 528.74,289.40 529.27,289.40 529.81,289.40 530.35,289.40 530.88,289.40 531.42,289.40 531.96,289.40 532.50,289.40 533.03,289.40 533.57,289.40 534.11,289.40 534.64,289.40 535.18,289.40 535.72,289.40 536.25,289.40 536.79,289.40 537.33,289.40 537.86,289.40 538.40,289.40 538.94,289.40 539.47,289.40 540.01,289.40 540.55,289.40 541.08,289.40 541.62,289.40 542.16,289.40 542.69,289.40 543.23,289.40 543.77,289.40 544.30,289.40 544.84,289.40 545.38,289.40 545.92,289.40 546.45,289.40 546.99,289.40 547.53,289.40 548.06,289.40 548.60,289.40 549.14,289.40 549.67,289.40 550.21,289.40 550.75,289.40 551.28,289.40 551.82,289.40" fill="none" stroke="#2a7cc9" stroke-width="1.1" stroke-linejoin="round" stroke-linecap="round"/>
<rect x="405.55" y="254.25" width="1.5" height="1.5" fill="#111"/>
<rect x="406.95" y="261.65" width="1.5" height="1.5" fill="#111"/>
<rect x="408.45" y="253.75" width="1.5" height="1.5" fill="#111"/>
<rect x="409.65" y="262.45" width="1.5" height="1.5" fill="#111"/>
<rect x="411.05" y="257.55" width="1.5" height="1.5" fill="#111"/>
<rect x="412.25" y="250.05" width="1.5" height="1.5" fill="#111"/>
<rect x="413.75" y="248.75" width="1.5" height="1.5" fill="#111"/>
<rect x="414.85" y="251.35" width="1.5" height="1.5" fill="#111"/>
<rect x="416.15" y="240.05" width="1.5" height="1.5" fill="#111"/>
<rect x="417.55" y="230.05" width="1.5" height="1.5" fill="#111"/>
<rect x="418.55" y="229.25" width="1.5" height="1.5" fill="#111"/>
<rect x="420.35" y="219.45" width="1.5" height="1.5" fill="#111"/>
<rect x="421.75" y="218.35" width="1.5" height="1.5" fill="#111"/>
<rect x="422.65" y="197.75" width="1.5" height="1.5" fill="#111"/>
<rect x="424.35" y="186.65" width="1.5" height="1.5" fill="#111"/>
<rect x="425.25" y="185.75" width="1.5" height="1.5" fill="#111"/>
<rect x="427.25" y="176.75" width="1.5" height="1.5" fill="#111"/>
<rect x="428.55" y="181.05" width="1.5" height="1.5" fill="#111"/>
<rect x="429.45" y="172.55" width="1.5" height="1.5" fill="#111"/>
<rect x="430.75" y="173.25" width="1.5" height="1.5" fill="#111"/>
<rect x="432.45" y="169.05" width="1.5" height="1.5" fill="#111"/>
<rect x="433.75" y="174.15" width="1.5" height="1.5" fill="#111"/>
<rect x="435.25" y="178.95" width="1.5" height="1.5" fill="#111"/>
<rect x="436.55" y="184.45" width="1.5" height="1.5" fill="#111"/>
<rect x="437.85" y="178.65" width="1.5" height="1.5" fill="#111"/>
<rect x="439.15" y="180.65" width="1.5" height="1.5" fill="#111"/>
<rect x="440.15" y="192.65" width="1.5" height="1.5" fill="#111"/>
<rect x="441.75" y="191.35" width="1.5" height="1.5" fill="#111"/>
<rect x="442.95" y="190.95" width="1.5" height="1.5" fill="#111"/>
<rect x="444.25" y="191.55" width="1.5" height="1.5" fill="#111"/>
<rect x="445.65" y="208.35" width="1.5" height="1.5" fill="#111"/>
<rect x="446.25" y="201.85" width="1.5" height="1.5" fill="#111"/>
<rect x="448.05" y="190.65" width="1.5" height="1.5" fill="#111"/>
<rect x="449.65" y="209.55" width="1.5" height="1.5" fill="#111"/>
<rect x="451.25" y="208.35" width="1.5" height="1.5" fill="#111"/>
<rect x="452.85" y="212.35" width="1.5" height="1.5" fill="#111"/>
<rect x="454.05" y="209.55" width="1.5" height="1.5" fill="#111"/>
<rect x="454.95" y="217.95" width="1.5" height="1.5" fill="#111"/>
<rect x="456.05" y="212.85" width="1.5" height="1.5" fill="#111"/>
<rect x="457.65" y="217.15" width="1.5" height="1.5" fill="#111"/>
<rect x="459.35" y="222.75" width="1.5" height="1.5" fill="#111"/>
<rect x="404.15" y="233.15" width="1.7" height="1.7" fill="#f00"/>
<rect x="460.35" y="212.85" width="1.7" height="1.7" fill="#f00"/>
<rect x="461.45" y="207.05" width="1.7" height="1.7" fill="#f00"/>
<rect x="462.85" y="226.15" width="1.7" height="1.7" fill="#f00"/>
<rect x="463.15" y="225.95" width="1.7" height="1.7" fill="#f00"/>
<rect x="464.55" y="220.85" width="1.7" height="1.7" fill="#f00"/>
<rect x="465.75" y="217.95" width="1.7" height="1.7" fill="#f00"/>
<rect x="467.15" y="217.75" width="1.7" height="1.7" fill="#f00"/>
<rect x="468.15" y="222.05" width="1.7" height="1.7" fill="#f00"/>
<rect x="469.55" y="224.45" width="1.7" height="1.7" fill="#f00"/>
<rect x="471.05" y="228.35" width="1.7" height="1.7" fill="#f00"/>
<rect x="472.45" y="213.95" width="1.7" height="1.7" fill="#f00"/>
<rect x="473.65" y="228.05" width="1.7" height="1.7" fill="#f00"/>
<rect x="475.05" y="225.95" width="1.7" height="1.7" fill="#f00"/>
<rect x="476.55" y="224.05" width="1.7" height="1.7" fill="#f00"/>
<rect x="477.65" y="237.05" width="1.7" height="1.7" fill="#f00"/>
<rect x="479.35" y="228.75" width="1.7" height="1.7" fill="#f00"/>
<rect x="480.55" y="213.35" width="1.7" height="1.7" fill="#f00"/>
<rect x="482.05" y="238.45" width="1.7" height="1.7" fill="#f00"/>
<rect x="483.05" y="229.55" width="1.7" height="1.7" fill="#f00"/>
<rect x="484.65" y="234.85" width="1.7" height="1.7" fill="#f00"/>
<rect x="486.05" y="235.35" width="1.7" height="1.7" fill="#f00"/>
<rect x="486.75" y="243.95" width="1.7" height="1.7" fill="#f00"/>
<rect x="488.25" y="234.95" width="1.7" height="1.7" fill="#f00"/>
<rect x="489.55" y="240.95" width="1.7" height="1.7" fill="#f00"/>
<rect x="491.25" y="243.55" width="1.7" height="1.7" fill="#f00"/>
<rect x="492.55" y="246.25" width="1.7" height="1.7" fill="#f00"/>
<rect x="494.15" y="245.05" width="1.7" height="1.7" fill="#f00"/>
<rect x="495.45" y="245.75" width="1.7" height="1.7" fill="#f00"/>
<rect x="496.75" y="247.55" width="1.7" height="1.7" fill="#f00"/>
<rect x="498.05" y="249.25" width="1.7" height="1.7" fill="#f00"/>
<rect x="499.35" y="250.15" width="1.7" height="1.7" fill="#f00"/>
<rect x="500.65" y="250.55" width="1.7" height="1.7" fill="#f00"/>
<rect x="501.95" y="253.55" width="1.7" height="1.7" fill="#f00"/>
<rect x="503.25" y="256.95" width="1.7" height="1.7" fill="#f00"/>
<rect x="504.45" y="250.15" width="1.7" height="1.7" fill="#f00"/>
<rect x="505.75" y="257.85" width="1.7" height="1.7" fill="#f00"/>
<rect x="507.05" y="247.95" width="1.7" height="1.7" fill="#f00"/>
<rect x="508.65" y="250.95" width="1.7" height="1.7" fill="#f00"/>
<rect x="509.85" y="253.35" width="1.7" height="1.7" fill="#f00"/>
<rect x="511.25" y="257.15" width="1.7" height="1.7" fill="#f00"/>
<rect x="512.45" y="258.35" width="1.7" height="1.7" fill="#f00"/>
<rect x="513.95" y="255.55" width="1.7" height="1.7" fill="#f00"/>
<rect x="515.15" y="260.35" width="1.7" height="1.7" fill="#f00"/>
<rect x="516.55" y="261.75" width="1.7" height="1.7" fill="#f00"/>
<rect x="517.75" y="266.75" width="1.7" height="1.7" fill="#f00"/>
<rect x="519.25" y="259.15" width="1.7" height="1.7" fill="#f00"/>
<rect x="520.45" y="263.15" width="1.7" height="1.7" fill="#f00"/>
<rect x="522.05" y="260.55" width="1.7" height="1.7" fill="#f00"/>
<rect x="523.15" y="267.75" width="1.7" height="1.7" fill="#f00"/>
<rect x="524.35" y="259.15" width="1.7" height="1.7" fill="#f00"/>
<rect x="525.85" y="267.75" width="1.7" height="1.7" fill="#f00"/>
<rect x="527.25" y="267.95" width="1.7" height="1.7" fill="#f00"/>
<rect x="528.45" y="258.45" width="1.7" height="1.7" fill="#f00"/>
<rect x="529.65" y="267.15" width="1.7" height="1.7" fill="#f00"/>
<rect x="530.85" y="266.75" width="1.7" height="1.7" fill="#f00"/>
<rect x="532.35" y="271.05" width="1.7" height="1.7" fill="#f00"/>
<rect x="533.95" y="265.95" width="1.7" height="1.7" fill="#f00"/>
<rect x="535.15" y="269.15" width="1.7" height="1.7" fill="#f00"/>
<rect x="536.55" y="269.15" width="1.7" height="1.7" fill="#f00"/>
</g>
<rect x="398.80" y="164.60" width="145.20" height="112.60" fill="none" stroke="#bcbcbc" stroke-width="0.7"/>
<line x1="404.20" y1="277.20" x2="404.20" y2="275.90" stroke="#bcbcbc" stroke-width="0.6"/>
<line x1="404.20" y1="164.60" x2="404.20" y2="165.90" stroke="#bcbcbc" stroke-width="0.6"/>
<line x1="431.04" y1="277.20" x2="431.04" y2="275.90" stroke="#bcbcbc" stroke-width="0.6"/>
<line x1="431.04" y1="164.60" x2="431.04" y2="165.90" stroke="#bcbcbc" stroke-width="0.6"/>
<line x1="457.88" y1="277.20" x2="457.88" y2="275.90" stroke="#bcbcbc" stroke-width="0.6"/>
<line x1="457.88" y1="164.60" x2="457.88" y2="165.90" stroke="#bcbcbc" stroke-width="0.6"/>
<line x1="484.72" y1="277.20" x2="484.72" y2="275.90" stroke="#bcbcbc" stroke-width="0.6"/>
<line x1="484.72" y1="164.60" x2="484.72" y2="165.90" stroke="#bcbcbc" stroke-width="0.6"/>
<line x1="511.56" y1="277.20" x2="511.56" y2="275.90" stroke="#bcbcbc" stroke-width="0.6"/>
<line x1="511.56" y1="164.60" x2="511.56" y2="165.90" stroke="#bcbcbc" stroke-width="0.6"/>
<line x1="538.40" y1="277.20" x2="538.40" y2="275.90" stroke="#bcbcbc" stroke-width="0.6"/>
<line x1="538.40" y1="164.60" x2="538.40" y2="165.90" stroke="#bcbcbc" stroke-width="0.6"/>
<line x1="398.80" y1="266.30" x2="400.10" y2="266.30" stroke="#bcbcbc" stroke-width="0.6"/>
<line x1="544.00" y1="266.30" x2="542.70" y2="266.30" stroke="#bcbcbc" stroke-width="0.6"/>
<line x1="398.80" y1="254.75" x2="400.10" y2="254.75" stroke="#bcbcbc" stroke-width="0.6"/>
<line x1="544.00" y1="254.75" x2="542.70" y2="254.75" stroke="#bcbcbc" stroke-width="0.6"/>
<line x1="398.80" y1="243.20" x2="400.10" y2="243.20" stroke="#bcbcbc" stroke-width="0.6"/>
<line x1="544.00" y1="243.20" x2="542.70" y2="243.20" stroke="#bcbcbc" stroke-width="0.6"/>
<line x1="398.80" y1="231.65" x2="400.10" y2="231.65" stroke="#bcbcbc" stroke-width="0.6"/>
<line x1="544.00" y1="231.65" x2="542.70" y2="231.65" stroke="#bcbcbc" stroke-width="0.6"/>
<line x1="398.80" y1="220.10" x2="400.10" y2="220.10" stroke="#bcbcbc" stroke-width="0.6"/>
<line x1="544.00" y1="220.10" x2="542.70" y2="220.10" stroke="#bcbcbc" stroke-width="0.6"/>
<line x1="398.80" y1="208.55" x2="400.10" y2="208.55" stroke="#bcbcbc" stroke-width="0.6"/>
<line x1="544.00" y1="208.55" x2="542.70" y2="208.55" stroke="#bcbcbc" stroke-width="0.6"/>
<line x1="398.80" y1="197.00" x2="400.10" y2="197.00" stroke="#bcbcbc" stroke-width="0.6"/>
<line x1="544.00" y1="197.00" x2="542.70" y2="197.00" stroke="#bcbcbc" stroke-width="0.6"/>
<line x1="398.80" y1="185.45" x2="400.10" y2="185.45" stroke="#bcbcbc" stroke-width="0.6"/>
<line x1="544.00" y1="185.45" x2="542.70" y2="185.45" stroke="#bcbcbc" stroke-width="0.6"/>
<line x1="398.80" y1="173.90" x2="400.10" y2="173.90" stroke="#bcbcbc" stroke-width="0.6"/>
<line x1="544.00" y1="173.90" x2="542.70" y2="173.90" stroke="#bcbcbc" stroke-width="0.6"/>
<text x="404.20" y="284.60" text-anchor="middle" class="t">40</text>
<text x="431.04" y="284.60" text-anchor="middle" class="t">60</text>
<text x="457.88" y="284.60" text-anchor="middle" class="t">80</text>
<text x="484.72" y="284.60" text-anchor="middle" class="t">100</text>
<text x="511.56" y="284.60" text-anchor="middle" class="t">120</text>
<text x="538.40" y="284.60" text-anchor="middle" class="t">140</text>
<text x="397.20" y="268.70" text-anchor="end" class="t">0.004</text>
<text x="397.20" y="257.15" text-anchor="end" class="t">0.006</text>
<text x="397.20" y="245.60" text-anchor="end" class="t">0.008</text>
<text x="397.20" y="234.05" text-anchor="end" class="t">0.01</text>
<text x="397.20" y="222.50" text-anchor="end" class="t">0.012</text>
<text x="397.20" y="210.95" text-anchor="end" class="t">0.014</text>
<text x="397.20" y="199.40" text-anchor="end" class="t">0.016</text>
<text x="397.20" y="187.85" text-anchor="end" class="t">0.018</text>
<text x="397.20" y="176.30" text-anchor="end" class="t">0.02</text>
<text x="471.8" y="290.6" text-anchor="middle" class="t">Pixel Values</text>
<text transform="translate(382.4,220.6) rotate(-90)" text-anchor="middle" class="t">Ratio</text>
<rect x="471.0" y="169.5" width="68.20" height="26.60" fill="#fff" stroke="#8a8a8a" stroke-width="0.6"/>
<rect x="476.60" y="172.90" width="1.6" height="1.6" fill="#111"/>
<text x="483.6" y="175.50" class="t">Experimental data (in)</text>
<rect x="476.50" y="178.80" width="1.8" height="1.8" fill="#f00"/>
<text x="483.6" y="181.50" class="t">Experimental data (out)</text>
<line x1="472.6" y1="185.90" x2="482.0" y2="185.90" stroke="#2a7cc9" stroke-width="0.95"/>
<text x="483.6" y="187.70" class="t">Analytical value</text>
<line x1="472.6" y1="192.30" x2="482.0" y2="192.30" stroke="#bcd7f2" stroke-width="0.7"/>
<text x="483.6" y="194.10" class="t">Range of fit</text>
<text x="96.3" y="157.0" text-anchor="middle" class="cap">(<tspan font-weight="bold">a</tspan>)</text>
<text x="279.9" y="157.0" text-anchor="middle" class="cap">(<tspan font-weight="bold">b</tspan>)</text>
<text x="459.1" y="157.0" text-anchor="middle" class="cap">(<tspan font-weight="bold">c</tspan>)</text>
<text x="96.1" y="306.3" text-anchor="middle" class="cap">(<tspan font-weight="bold">d</tspan>)</text>
<text x="279.9" y="306.3" text-anchor="middle" class="cap">(<tspan font-weight="bold">e</tspan>)</text>
<text x="459.3" y="306.3" text-anchor="middle" class="cap">(<tspan font-weight="bold">f</tspan>)</text>
</svg>
</body></html>
